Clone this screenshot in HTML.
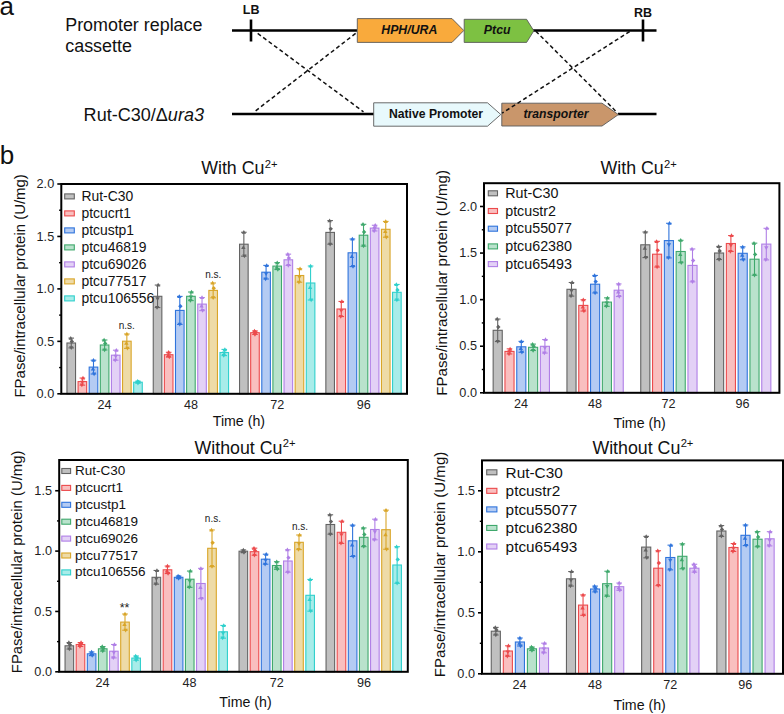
<!DOCTYPE html>
<html><head><meta charset="utf-8"><title>Figure</title>
<style>
html,body{margin:0;padding:0;background:#fff;}
body{width:784px;height:714px;overflow:hidden;}
svg{display:block;font-family:"Liberation Sans", sans-serif;}
</style></head>
<body>
<svg width="784" height="714" viewBox="0 0 784 714">
<rect width="784" height="714" fill="#fff"/>
<text x="-0.6" y="14.5" font-size="26" fill="#111" >a</text>
<text x="65.2" y="30.7" font-size="17.5" fill="#111" textLength="137.3" lengthAdjust="spacingAndGlyphs">Promoter replace</text>
<text x="65.2" y="51.7" font-size="17.5" fill="#111" textLength="66.8" lengthAdjust="spacingAndGlyphs">cassette</text>
<text x="83.6" y="120.7" font-size="17.5" fill="#111" textLength="120.4" lengthAdjust="spacingAndGlyphs">Rut-C30/&#916;<tspan font-style="italic">ura3</tspan></text>
<line x1="232" y1="30.5" x2="357" y2="30.5" stroke="#000" stroke-width="2.6"/>
<line x1="533" y1="30.5" x2="656.5" y2="30.5" stroke="#000" stroke-width="2.6"/>
<line x1="232" y1="114" x2="374" y2="114" stroke="#000" stroke-width="2.6"/>
<line x1="618" y1="114" x2="656.5" y2="114" stroke="#000" stroke-width="2.6"/>
<line x1="251" y1="19.5" x2="251" y2="41.5" stroke="#000" stroke-width="2.6"/>
<line x1="643" y1="19.5" x2="643" y2="41.5" stroke="#000" stroke-width="2.6"/>
<text x="251.1" y="13.8" font-size="12.5" text-anchor="middle" font-weight="bold" fill="#111" >LB</text>
<text x="643" y="16.7" font-size="12.5" text-anchor="middle" font-weight="bold" fill="#111" >RB</text>
<path d="M357.3,18.6 L452,18.6 L463.8,30.5 L452,42.4 L357.3,42.4 Z" fill="#f9aa3c" stroke="#5a5a5a" stroke-width="0.9"/>
<text x="409.3" y="33.6" font-size="12.3" font-weight="bold" font-style="italic" text-anchor="middle" fill="#111" >HPH/URA</text>
<path d="M464.2,19.3 L526.6,19.3 L533.8,30.85 L526.6,42.4 L464.2,42.4 Z" fill="#7dc142" stroke="#5a5a5a" stroke-width="0.9"/>
<text x="497.2" y="33.95" font-size="12.3" font-weight="bold" font-style="italic" text-anchor="middle" fill="#111" >Ptcu</text>
<path d="M373.7,102.8 L487.5,102.8 L500.8,114.5 L487.5,126.2 L373.7,126.2 Z" fill="#e8f9fc" stroke="#5a5a5a" stroke-width="0.9"/>
<text x="436" y="117.6" font-size="12.2" font-weight="bold" font-style="normal" text-anchor="middle" fill="#111" >Native Promoter</text>
<path d="M501.8,103.2 L602,103.2 L618.4,114.6 L602,126.0 L501.8,126.0 Z" fill="#c9966b" stroke="#5a5a5a" stroke-width="0.9"/>
<text x="556" y="117.69999999999999" font-size="12.2" font-weight="bold" font-style="italic" text-anchor="middle" fill="#111" >transporter</text>
<line x1="257.7" y1="33.4" x2="363.5" y2="111.8" stroke="#111" stroke-width="1.5" stroke-dasharray="4,2.8" fill="none"/>
<line x1="355.6" y1="33.4" x2="254.6" y2="111.6" stroke="#111" stroke-width="1.5" stroke-dasharray="4,2.8" fill="none"/>
<line x1="535.8" y1="31.1" x2="615.6" y2="111" stroke="#111" stroke-width="1.5" stroke-dasharray="4,2.8" fill="none"/>
<line x1="629.7" y1="31.5" x2="502.1" y2="113.2" stroke="#111" stroke-width="1.5" stroke-dasharray="4,2.8" fill="none"/>
<text x="-0.3" y="163.9" font-size="26" fill="#111" >b</text>
<rect x="66.95" y="343.00" width="8.60" height="50.80" fill="#c0c0c0" stroke="#636363" stroke-width="1.1"/>
<line x1="71.25" y1="338.10" x2="71.25" y2="347.90" stroke="#636363" stroke-width="1.1"/>
<line x1="68.45" y1="338.10" x2="74.05" y2="338.10" stroke="#636363" stroke-width="1.1"/>
<line x1="68.45" y1="347.90" x2="74.05" y2="347.90" stroke="#636363" stroke-width="1.1"/>
<path d="M68.55,339.66 L72.95,339.66 L70.75,335.92 Z" fill="#636363"/>
<path d="M71.85,339.33 L74.05,341.53 L71.85,343.72999999999996 L69.64999999999999,341.53 Z" fill="#636363"/>
<path d="M69.05,346.34 L73.45,346.34 L71.25,350.08 Z" fill="#636363"/>
<rect x="78.07" y="381.60" width="8.60" height="12.20" fill="#f9bfbf" stroke="#ec4a4c" stroke-width="1.1"/>
<line x1="82.37" y1="378.05" x2="82.37" y2="385.15" stroke="#ec4a4c" stroke-width="1.1"/>
<line x1="79.57" y1="378.05" x2="85.17" y2="378.05" stroke="#ec4a4c" stroke-width="1.1"/>
<line x1="79.57" y1="385.15" x2="85.17" y2="385.15" stroke="#ec4a4c" stroke-width="1.1"/>
<path d="M80.77,379.61 L85.17,379.61 L82.97,375.87 Z" fill="#ec4a4c"/>
<path d="M80.17,380.7275 L84.57000000000001,380.7275 L82.37,384.46750000000003 Z" fill="#ec4a4c"/>
<path d="M79.67,383.59000000000003 L84.07000000000001,383.59000000000003 L81.87,387.33000000000004 Z" fill="#ec4a4c"/>
<rect x="89.19" y="367.10" width="8.60" height="26.70" fill="#b4cbf3" stroke="#2f74dc" stroke-width="1.1"/>
<line x1="93.49" y1="360.20" x2="93.49" y2="374.00" stroke="#2f74dc" stroke-width="1.1"/>
<line x1="90.69" y1="360.20" x2="96.29" y2="360.20" stroke="#2f74dc" stroke-width="1.1"/>
<line x1="90.69" y1="374.00" x2="96.29" y2="374.00" stroke="#2f74dc" stroke-width="1.1"/>
<path d="M91.28999999999999,361.76000000000005 L95.69,361.76000000000005 L93.49,358.02000000000004 Z" fill="#2f74dc"/>
<path d="M90.78999999999999,370.58500000000004 L95.19,370.58500000000004 L92.99,366.845 Z" fill="#2f74dc"/>
<path d="M91.88999999999999,372.44 L96.28999999999999,372.44 L94.08999999999999,376.18 Z" fill="#2f74dc"/>
<rect x="100.31" y="345.00" width="8.60" height="48.80" fill="#b9e2cc" stroke="#3fa86c" stroke-width="1.1"/>
<line x1="104.61" y1="340.00" x2="104.61" y2="350.00" stroke="#3fa86c" stroke-width="1.1"/>
<line x1="101.81" y1="340.00" x2="107.41" y2="340.00" stroke="#3fa86c" stroke-width="1.1"/>
<line x1="101.81" y1="350.00" x2="107.41" y2="350.00" stroke="#3fa86c" stroke-width="1.1"/>
<path d="M101.91,341.56 L106.31,341.56 L104.11,337.82 Z" fill="#3fa86c"/>
<path d="M105.21,341.3 L107.41,343.5 L105.21,345.7 L103.00999999999999,343.5 Z" fill="#3fa86c"/>
<path d="M102.41,348.44 L106.81,348.44 L104.61,352.18 Z" fill="#3fa86c"/>
<rect x="111.43" y="355.20" width="8.60" height="38.60" fill="#e3d1f6" stroke="#b07fe6" stroke-width="1.1"/>
<line x1="115.73" y1="350.20" x2="115.73" y2="360.20" stroke="#b07fe6" stroke-width="1.1"/>
<line x1="112.93" y1="350.20" x2="118.53" y2="350.20" stroke="#b07fe6" stroke-width="1.1"/>
<line x1="112.93" y1="360.20" x2="118.53" y2="360.20" stroke="#b07fe6" stroke-width="1.1"/>
<path d="M114.12999999999998,351.76 L118.52999999999999,351.76 L116.32999999999998,348.02 Z" fill="#b07fe6"/>
<path d="M113.52999999999999,354.69 L117.92999999999999,354.69 L115.72999999999999,358.43 Z" fill="#b07fe6"/>
<path d="M113.02999999999999,358.64 L117.42999999999999,358.64 L115.22999999999999,362.38 Z" fill="#b07fe6"/>
<rect x="122.55" y="341.20" width="8.60" height="52.60" fill="#eedba7" stroke="#d9a528" stroke-width="1.1"/>
<line x1="126.85" y1="334.00" x2="126.85" y2="348.40" stroke="#d9a528" stroke-width="1.1"/>
<line x1="124.05" y1="334.00" x2="129.65" y2="334.00" stroke="#d9a528" stroke-width="1.1"/>
<line x1="124.05" y1="348.40" x2="129.65" y2="348.40" stroke="#d9a528" stroke-width="1.1"/>
<path d="M124.64999999999999,335.56 L129.04999999999998,335.56 L126.85,331.82 Z" fill="#d9a528"/>
<path d="M124.14999999999999,344.76 L128.54999999999998,344.76 L126.35,341.02 Z" fill="#d9a528"/>
<path d="M125.24999999999999,346.84 L129.64999999999998,346.84 L127.44999999999999,350.58 Z" fill="#d9a528"/>
<rect x="133.67" y="382.20" width="8.60" height="11.60" fill="#a8ece9" stroke="#2fd0cc" stroke-width="1.1"/>
<line x1="137.97" y1="381.20" x2="137.97" y2="383.20" stroke="#2fd0cc" stroke-width="1.1"/>
<line x1="135.17" y1="381.20" x2="140.77" y2="381.20" stroke="#2fd0cc" stroke-width="1.1"/>
<line x1="135.17" y1="383.20" x2="140.77" y2="383.20" stroke="#2fd0cc" stroke-width="1.1"/>
<path d="M135.27,382.76 L139.67,382.76 L137.47,379.02 Z" fill="#2fd0cc"/>
<path d="M138.57,379.7 L140.76999999999998,381.9 L138.57,384.09999999999997 L136.37,381.9 Z" fill="#2fd0cc"/>
<path d="M135.77,381.64 L140.17,381.64 L137.97,385.38 Z" fill="#2fd0cc"/>
<rect x="153.25" y="296.30" width="8.60" height="97.50" fill="#c0c0c0" stroke="#636363" stroke-width="1.1"/>
<line x1="157.55" y1="285.05" x2="157.55" y2="307.55" stroke="#636363" stroke-width="1.1"/>
<line x1="154.75" y1="285.05" x2="160.35" y2="285.05" stroke="#636363" stroke-width="1.1"/>
<line x1="154.75" y1="307.55" x2="160.35" y2="307.55" stroke="#636363" stroke-width="1.1"/>
<path d="M155.95,286.61 L160.34999999999997,286.61 L158.14999999999998,282.87 Z" fill="#636363"/>
<path d="M155.35,297.3525 L159.74999999999997,297.3525 L157.54999999999998,301.09250000000003 Z" fill="#636363"/>
<path d="M154.85,305.99 L159.24999999999997,305.99 L157.04999999999998,309.73 Z" fill="#636363"/>
<rect x="164.37" y="354.70" width="8.60" height="39.10" fill="#f9bfbf" stroke="#ec4a4c" stroke-width="1.1"/>
<line x1="168.67" y1="352.30" x2="168.67" y2="357.10" stroke="#ec4a4c" stroke-width="1.1"/>
<line x1="165.87" y1="352.30" x2="171.47" y2="352.30" stroke="#ec4a4c" stroke-width="1.1"/>
<line x1="165.87" y1="357.10" x2="171.47" y2="357.10" stroke="#ec4a4c" stroke-width="1.1"/>
<path d="M166.47,353.85999999999996 L170.86999999999998,353.85999999999996 L168.67,350.11999999999995 Z" fill="#ec4a4c"/>
<path d="M165.97,357.06 L170.36999999999998,357.06 L168.17,353.32 Z" fill="#ec4a4c"/>
<path d="M167.07,355.54 L171.46999999999997,355.54 L169.26999999999998,359.28000000000003 Z" fill="#ec4a4c"/>
<rect x="175.49" y="310.40" width="8.60" height="83.40" fill="#b4cbf3" stroke="#2f74dc" stroke-width="1.1"/>
<line x1="179.79" y1="296.40" x2="179.79" y2="324.40" stroke="#2f74dc" stroke-width="1.1"/>
<line x1="176.99" y1="296.40" x2="182.59" y2="296.40" stroke="#2f74dc" stroke-width="1.1"/>
<line x1="176.99" y1="324.40" x2="182.59" y2="324.40" stroke="#2f74dc" stroke-width="1.1"/>
<path d="M177.09,297.96 L181.48999999999998,297.96 L179.29,294.21999999999997 Z" fill="#2f74dc"/>
<path d="M180.39,304.0 L182.58999999999997,306.2 L180.39,308.4 L178.19,306.2 Z" fill="#2f74dc"/>
<path d="M177.59,322.84 L181.98999999999998,322.84 L179.79,326.58 Z" fill="#2f74dc"/>
<rect x="186.61" y="296.30" width="8.60" height="97.50" fill="#b9e2cc" stroke="#3fa86c" stroke-width="1.1"/>
<line x1="190.91" y1="292.00" x2="190.91" y2="300.60" stroke="#3fa86c" stroke-width="1.1"/>
<line x1="188.11" y1="292.00" x2="193.71" y2="292.00" stroke="#3fa86c" stroke-width="1.1"/>
<line x1="188.11" y1="300.60" x2="193.71" y2="300.60" stroke="#3fa86c" stroke-width="1.1"/>
<path d="M189.31,293.56 L193.70999999999998,293.56 L191.51,289.82 Z" fill="#3fa86c"/>
<path d="M188.71,295.615 L193.10999999999999,295.615 L190.91,299.355 Z" fill="#3fa86c"/>
<path d="M188.21,299.04 L192.60999999999999,299.04 L190.41,302.78000000000003 Z" fill="#3fa86c"/>
<rect x="197.73" y="304.10" width="8.60" height="89.70" fill="#e3d1f6" stroke="#b07fe6" stroke-width="1.1"/>
<line x1="202.03" y1="297.55" x2="202.03" y2="310.65" stroke="#b07fe6" stroke-width="1.1"/>
<line x1="199.23" y1="297.55" x2="204.83" y2="297.55" stroke="#b07fe6" stroke-width="1.1"/>
<line x1="199.23" y1="310.65" x2="204.83" y2="310.65" stroke="#b07fe6" stroke-width="1.1"/>
<path d="M199.82999999999998,299.11 L204.22999999999996,299.11 L202.02999999999997,295.37 Z" fill="#b07fe6"/>
<path d="M199.32999999999998,307.4975 L203.72999999999996,307.4975 L201.52999999999997,303.7575 Z" fill="#b07fe6"/>
<path d="M200.42999999999998,309.09000000000003 L204.82999999999996,309.09000000000003 L202.62999999999997,312.83000000000004 Z" fill="#b07fe6"/>
<rect x="208.85" y="290.40" width="8.60" height="103.40" fill="#eedba7" stroke="#d9a528" stroke-width="1.1"/>
<line x1="213.15" y1="283.00" x2="213.15" y2="297.80" stroke="#d9a528" stroke-width="1.1"/>
<line x1="210.35" y1="283.00" x2="215.95" y2="283.00" stroke="#d9a528" stroke-width="1.1"/>
<line x1="210.35" y1="297.80" x2="215.95" y2="297.80" stroke="#d9a528" stroke-width="1.1"/>
<path d="M210.45,284.56 L214.84999999999997,284.56 L212.64999999999998,280.82 Z" fill="#d9a528"/>
<path d="M213.74999999999997,285.97999999999996 L215.94999999999996,288.17999999999995 L213.74999999999997,290.37999999999994 L211.54999999999998,288.17999999999995 Z" fill="#d9a528"/>
<path d="M210.95,296.23999999999995 L215.34999999999997,296.23999999999995 L213.14999999999998,299.97999999999996 Z" fill="#d9a528"/>
<rect x="219.97" y="352.50" width="8.60" height="41.30" fill="#a8ece9" stroke="#2fd0cc" stroke-width="1.1"/>
<line x1="224.27" y1="349.40" x2="224.27" y2="355.60" stroke="#2fd0cc" stroke-width="1.1"/>
<line x1="221.47" y1="349.40" x2="227.07" y2="349.40" stroke="#2fd0cc" stroke-width="1.1"/>
<line x1="221.47" y1="355.60" x2="227.07" y2="355.60" stroke="#2fd0cc" stroke-width="1.1"/>
<path d="M222.67,350.96 L227.06999999999996,350.96 L224.86999999999998,347.21999999999997 Z" fill="#2fd0cc"/>
<path d="M222.07,351.515 L226.46999999999997,351.515 L224.26999999999998,355.255 Z" fill="#2fd0cc"/>
<path d="M221.57,354.04 L225.96999999999997,354.04 L223.76999999999998,357.78000000000003 Z" fill="#2fd0cc"/>
<rect x="239.55" y="244.20" width="8.60" height="149.60" fill="#c0c0c0" stroke="#636363" stroke-width="1.1"/>
<line x1="243.85" y1="232.25" x2="243.85" y2="256.15" stroke="#636363" stroke-width="1.1"/>
<line x1="241.05" y1="232.25" x2="246.65" y2="232.25" stroke="#636363" stroke-width="1.1"/>
<line x1="241.05" y1="256.15" x2="246.65" y2="256.15" stroke="#636363" stroke-width="1.1"/>
<path d="M241.65,233.81 L246.04999999999998,233.81 L243.85,230.07000000000002 Z" fill="#636363"/>
<path d="M241.15,248.9475 L245.54999999999998,248.9475 L243.35,245.2075 Z" fill="#636363"/>
<path d="M242.25,254.58999999999997 L246.64999999999998,254.58999999999997 L244.45,258.33 Z" fill="#636363"/>
<rect x="250.67" y="332.70" width="8.60" height="61.10" fill="#f9bfbf" stroke="#ec4a4c" stroke-width="1.1"/>
<line x1="254.97" y1="330.90" x2="254.97" y2="334.50" stroke="#ec4a4c" stroke-width="1.1"/>
<line x1="252.17" y1="330.90" x2="257.77" y2="330.90" stroke="#ec4a4c" stroke-width="1.1"/>
<line x1="252.17" y1="334.50" x2="257.77" y2="334.50" stroke="#ec4a4c" stroke-width="1.1"/>
<path d="M252.27,332.46 L256.67,332.46 L254.47,328.71999999999997 Z" fill="#ec4a4c"/>
<path d="M255.57,329.96 L257.77,332.15999999999997 L255.57,334.35999999999996 L253.37,332.15999999999997 Z" fill="#ec4a4c"/>
<path d="M252.77,332.94 L257.17,332.94 L254.97,336.68 Z" fill="#ec4a4c"/>
<rect x="261.79" y="272.20" width="8.60" height="121.60" fill="#b4cbf3" stroke="#2f74dc" stroke-width="1.1"/>
<line x1="266.09" y1="265.40" x2="266.09" y2="279.00" stroke="#2f74dc" stroke-width="1.1"/>
<line x1="263.29" y1="265.40" x2="268.89" y2="265.40" stroke="#2f74dc" stroke-width="1.1"/>
<line x1="263.29" y1="279.00" x2="268.89" y2="279.00" stroke="#2f74dc" stroke-width="1.1"/>
<path d="M264.49000000000007,266.96 L268.89000000000004,266.96 L266.69000000000005,263.21999999999997 Z" fill="#2f74dc"/>
<path d="M263.89000000000004,272.14 L268.29,272.14 L266.09000000000003,275.88 Z" fill="#2f74dc"/>
<path d="M263.39000000000004,277.44 L267.79,277.44 L265.59000000000003,281.18 Z" fill="#2f74dc"/>
<rect x="272.91" y="266.10" width="8.60" height="127.70" fill="#b9e2cc" stroke="#3fa86c" stroke-width="1.1"/>
<line x1="277.21" y1="262.65" x2="277.21" y2="269.55" stroke="#3fa86c" stroke-width="1.1"/>
<line x1="274.41" y1="262.65" x2="280.01" y2="262.65" stroke="#3fa86c" stroke-width="1.1"/>
<line x1="274.41" y1="269.55" x2="280.01" y2="269.55" stroke="#3fa86c" stroke-width="1.1"/>
<path d="M275.01000000000005,264.21000000000004 L279.41,264.21000000000004 L277.21000000000004,260.47 Z" fill="#3fa86c"/>
<path d="M274.51000000000005,268.7225 L278.91,268.7225 L276.71000000000004,264.9825 Z" fill="#3fa86c"/>
<path d="M275.61000000000007,267.99 L280.01000000000005,267.99 L277.81000000000006,271.73 Z" fill="#3fa86c"/>
<rect x="284.03" y="259.80" width="8.60" height="134.00" fill="#e3d1f6" stroke="#b07fe6" stroke-width="1.1"/>
<line x1="288.33" y1="254.15" x2="288.33" y2="265.45" stroke="#b07fe6" stroke-width="1.1"/>
<line x1="285.53" y1="254.15" x2="291.13" y2="254.15" stroke="#b07fe6" stroke-width="1.1"/>
<line x1="285.53" y1="265.45" x2="291.13" y2="265.45" stroke="#b07fe6" stroke-width="1.1"/>
<path d="M285.63000000000005,255.71 L290.03000000000003,255.71 L287.83000000000004,251.97000000000003 Z" fill="#b07fe6"/>
<path d="M288.93000000000006,255.90500000000003 L291.13000000000005,258.105 L288.93000000000006,260.305 L286.7300000000001,258.105 Z" fill="#b07fe6"/>
<path d="M286.13000000000005,263.89000000000004 L290.53000000000003,263.89000000000004 L288.33000000000004,267.63000000000005 Z" fill="#b07fe6"/>
<rect x="295.15" y="275.50" width="8.60" height="118.30" fill="#eedba7" stroke="#d9a528" stroke-width="1.1"/>
<line x1="299.45" y1="268.80" x2="299.45" y2="282.20" stroke="#d9a528" stroke-width="1.1"/>
<line x1="296.65" y1="268.80" x2="302.25" y2="268.80" stroke="#d9a528" stroke-width="1.1"/>
<line x1="296.65" y1="282.20" x2="302.25" y2="282.20" stroke="#d9a528" stroke-width="1.1"/>
<path d="M297.8500000000001,270.35999999999996 L302.25000000000006,270.35999999999996 L300.05000000000007,266.61999999999995 Z" fill="#d9a528"/>
<path d="M297.25000000000006,275.415 L301.65000000000003,275.415 L299.45000000000005,279.15500000000003 Z" fill="#d9a528"/>
<path d="M296.75000000000006,280.64000000000004 L301.15000000000003,280.64000000000004 L298.95000000000005,284.38000000000005 Z" fill="#d9a528"/>
<rect x="306.27" y="283.00" width="8.60" height="110.80" fill="#a8ece9" stroke="#2fd0cc" stroke-width="1.1"/>
<line x1="310.57" y1="266.00" x2="310.57" y2="300.00" stroke="#2fd0cc" stroke-width="1.1"/>
<line x1="307.77" y1="266.00" x2="313.37" y2="266.00" stroke="#2fd0cc" stroke-width="1.1"/>
<line x1="307.77" y1="300.00" x2="313.37" y2="300.00" stroke="#2fd0cc" stroke-width="1.1"/>
<path d="M308.37000000000006,267.56 L312.77000000000004,267.56 L310.57000000000005,263.82 Z" fill="#2fd0cc"/>
<path d="M307.87000000000006,289.01 L312.27000000000004,289.01 L310.07000000000005,285.27 Z" fill="#2fd0cc"/>
<path d="M308.9700000000001,298.44 L313.37000000000006,298.44 L311.1700000000001,302.18 Z" fill="#2fd0cc"/>
<rect x="325.85" y="232.40" width="8.60" height="161.40" fill="#c0c0c0" stroke="#636363" stroke-width="1.1"/>
<line x1="330.15" y1="220.60" x2="330.15" y2="244.20" stroke="#636363" stroke-width="1.1"/>
<line x1="327.35" y1="220.60" x2="332.95" y2="220.60" stroke="#636363" stroke-width="1.1"/>
<line x1="327.35" y1="244.20" x2="332.95" y2="244.20" stroke="#636363" stroke-width="1.1"/>
<path d="M327.45,222.16 L331.84999999999997,222.16 L329.65,218.42000000000002 Z" fill="#636363"/>
<path d="M330.75,226.66000000000003 L332.95,228.86 L330.75,231.06 L328.55,228.86 Z" fill="#636363"/>
<path d="M327.95,242.64000000000001 L332.34999999999997,242.64000000000001 L330.15,246.38 Z" fill="#636363"/>
<rect x="336.97" y="309.00" width="8.60" height="84.80" fill="#f9bfbf" stroke="#ec4a4c" stroke-width="1.1"/>
<line x1="341.27" y1="301.45" x2="341.27" y2="316.55" stroke="#ec4a4c" stroke-width="1.1"/>
<line x1="338.47" y1="301.45" x2="344.07" y2="301.45" stroke="#ec4a4c" stroke-width="1.1"/>
<line x1="338.47" y1="316.55" x2="344.07" y2="316.55" stroke="#ec4a4c" stroke-width="1.1"/>
<path d="M339.67,303.01 L344.07,303.01 L341.87,299.27 Z" fill="#ec4a4c"/>
<path d="M339.07,309.1275 L343.46999999999997,309.1275 L341.27,312.8675 Z" fill="#ec4a4c"/>
<path d="M338.57,314.99 L342.96999999999997,314.99 L340.77,318.73 Z" fill="#ec4a4c"/>
<rect x="348.09" y="252.80" width="8.60" height="141.00" fill="#b4cbf3" stroke="#2f74dc" stroke-width="1.1"/>
<line x1="352.39" y1="239.00" x2="352.39" y2="266.60" stroke="#2f74dc" stroke-width="1.1"/>
<line x1="349.59" y1="239.00" x2="355.19" y2="239.00" stroke="#2f74dc" stroke-width="1.1"/>
<line x1="349.59" y1="266.60" x2="355.19" y2="266.60" stroke="#2f74dc" stroke-width="1.1"/>
<path d="M350.19,240.56000000000003 L354.59,240.56000000000003 L352.39,236.82000000000005 Z" fill="#2f74dc"/>
<path d="M349.69,258.01 L354.09,258.01 L351.89,254.27 Z" fill="#2f74dc"/>
<path d="M350.79,265.04 L355.19,265.04 L352.99,268.78000000000003 Z" fill="#2f74dc"/>
<rect x="359.21" y="235.20" width="8.60" height="158.60" fill="#b9e2cc" stroke="#3fa86c" stroke-width="1.1"/>
<line x1="363.51" y1="224.30" x2="363.51" y2="246.10" stroke="#3fa86c" stroke-width="1.1"/>
<line x1="360.71" y1="224.30" x2="366.31" y2="224.30" stroke="#3fa86c" stroke-width="1.1"/>
<line x1="360.71" y1="246.10" x2="366.31" y2="246.10" stroke="#3fa86c" stroke-width="1.1"/>
<path d="M360.81,225.85999999999999 L365.21,225.85999999999999 L363.01,222.12 Z" fill="#3fa86c"/>
<path d="M364.11,229.73 L366.31,231.92999999999998 L364.11,234.12999999999997 L361.91,231.92999999999998 Z" fill="#3fa86c"/>
<path d="M361.31,244.54 L365.71,244.54 L363.51,248.27999999999997 Z" fill="#3fa86c"/>
<rect x="370.33" y="228.10" width="8.60" height="165.70" fill="#e3d1f6" stroke="#b07fe6" stroke-width="1.1"/>
<line x1="374.63" y1="225.25" x2="374.63" y2="230.95" stroke="#b07fe6" stroke-width="1.1"/>
<line x1="371.83" y1="225.25" x2="377.43" y2="225.25" stroke="#b07fe6" stroke-width="1.1"/>
<line x1="371.83" y1="230.95" x2="377.43" y2="230.95" stroke="#b07fe6" stroke-width="1.1"/>
<path d="M373.03000000000003,226.81 L377.43,226.81 L375.23,223.07000000000002 Z" fill="#b07fe6"/>
<path d="M372.43,227.0525 L376.83,227.0525 L374.63,230.7925 Z" fill="#b07fe6"/>
<path d="M371.93,229.39 L376.33,229.39 L374.13,233.12999999999997 Z" fill="#b07fe6"/>
<rect x="381.45" y="229.30" width="8.60" height="164.50" fill="#eedba7" stroke="#d9a528" stroke-width="1.1"/>
<line x1="385.75" y1="221.40" x2="385.75" y2="237.20" stroke="#d9a528" stroke-width="1.1"/>
<line x1="382.95" y1="221.40" x2="388.55" y2="221.40" stroke="#d9a528" stroke-width="1.1"/>
<line x1="382.95" y1="237.20" x2="388.55" y2="237.20" stroke="#d9a528" stroke-width="1.1"/>
<path d="M383.55,222.96000000000004 L387.95,222.96000000000004 L385.75,219.22000000000006 Z" fill="#d9a528"/>
<path d="M383.05,233.035 L387.45,233.035 L385.25,229.29500000000002 Z" fill="#d9a528"/>
<path d="M384.15000000000003,235.64 L388.55,235.64 L386.35,239.37999999999997 Z" fill="#d9a528"/>
<rect x="392.57" y="292.30" width="8.60" height="101.50" fill="#a8ece9" stroke="#2fd0cc" stroke-width="1.1"/>
<line x1="396.87" y1="284.45" x2="396.87" y2="300.15" stroke="#2fd0cc" stroke-width="1.1"/>
<line x1="394.07" y1="284.45" x2="399.67" y2="284.45" stroke="#2fd0cc" stroke-width="1.1"/>
<line x1="394.07" y1="300.15" x2="399.67" y2="300.15" stroke="#2fd0cc" stroke-width="1.1"/>
<path d="M394.17,286.01000000000005 L398.57,286.01000000000005 L396.37,282.27000000000004 Z" fill="#2fd0cc"/>
<path d="M397.47,287.745 L399.67,289.945 L397.47,292.145 L395.27000000000004,289.945 Z" fill="#2fd0cc"/>
<path d="M394.67,298.59 L399.07,298.59 L396.87,302.33 Z" fill="#2fd0cc"/>
<rect x="61.3" y="184" width="345.7" height="209.8" fill="none" stroke="#000" stroke-width="2.0"/>
<line x1="57.3" y1="393.80" x2="61.3" y2="393.80" stroke="#000" stroke-width="1.6"/>
<text x="54.2" y="398.0" font-size="12.7" text-anchor="end" fill="#1e1e1e" >0.0</text>
<line x1="57.3" y1="341.35" x2="61.3" y2="341.35" stroke="#000" stroke-width="1.6"/>
<text x="54.2" y="345.55" font-size="12.7" text-anchor="end" fill="#1e1e1e" >0.5</text>
<line x1="57.3" y1="288.90" x2="61.3" y2="288.90" stroke="#000" stroke-width="1.6"/>
<text x="54.2" y="293.09999999999997" font-size="12.7" text-anchor="end" fill="#1e1e1e" >1.0</text>
<line x1="57.3" y1="236.45" x2="61.3" y2="236.45" stroke="#000" stroke-width="1.6"/>
<text x="54.2" y="240.64999999999998" font-size="12.7" text-anchor="end" fill="#1e1e1e" >1.5</text>
<line x1="57.3" y1="184.00" x2="61.3" y2="184.00" stroke="#000" stroke-width="1.6"/>
<text x="54.2" y="188.2" font-size="12.7" text-anchor="end" fill="#1e1e1e" >2.0</text>
<line x1="59.099999999999994" y1="367.57" x2="61.3" y2="367.57" stroke="#000" stroke-width="1.4"/>
<line x1="59.099999999999994" y1="315.12" x2="61.3" y2="315.12" stroke="#000" stroke-width="1.4"/>
<line x1="59.099999999999994" y1="262.68" x2="61.3" y2="262.68" stroke="#000" stroke-width="1.4"/>
<line x1="59.099999999999994" y1="210.22" x2="61.3" y2="210.22" stroke="#000" stroke-width="1.4"/>
<text x="104.4" y="408.6" font-size="12.6" text-anchor="middle" fill="#222" >24</text>
<text x="191.0" y="408.6" font-size="12.6" text-anchor="middle" fill="#222" >48</text>
<text x="277.3" y="408.6" font-size="12.6" text-anchor="middle" fill="#222" >72</text>
<text x="363.8" y="408.6" font-size="12.6" text-anchor="middle" fill="#222" >96</text>
<text x="238.9" y="426.3" font-size="14.2" text-anchor="middle" fill="#111" >Time (h)</text>
<text transform="translate(24.6,397.5) rotate(-90)" x="0" y="0" font-size="14.95" fill="#111">FPase/intracellular protein (U/mg)</text>
<text x="201.2" y="174.3" font-size="17.8" fill="#111">With Cu<tspan font-size="11.2" dx="0.3" dy="-6.6">2+</tspan></text>
<rect x="64.7" y="193.9" width="9.6" height="5" fill="#c0c0c0" stroke="#636363" stroke-width="1.1"/>
<text x="81.5" y="201.1" font-size="13.9" fill="#111" >Rut-C30</text>
<rect x="64.7" y="210.9" width="9.6" height="5" fill="#f9bfbf" stroke="#ec4a4c" stroke-width="1.1"/>
<text x="81.5" y="218.1" font-size="13.9" fill="#111" >ptcucrt1</text>
<rect x="64.7" y="227.9" width="9.6" height="5" fill="#b4cbf3" stroke="#2f74dc" stroke-width="1.1"/>
<text x="81.5" y="235.1" font-size="13.9" fill="#111" >ptcustp1</text>
<rect x="64.7" y="244.9" width="9.6" height="5" fill="#b9e2cc" stroke="#3fa86c" stroke-width="1.1"/>
<text x="81.5" y="252.1" font-size="13.9" fill="#111" >ptcu46819</text>
<rect x="64.7" y="261.9" width="9.6" height="5" fill="#e3d1f6" stroke="#b07fe6" stroke-width="1.1"/>
<text x="81.5" y="269.1" font-size="13.9" fill="#111" >ptcu69026</text>
<rect x="64.7" y="278.9" width="9.6" height="5" fill="#eedba7" stroke="#d9a528" stroke-width="1.1"/>
<text x="81.5" y="286.1" font-size="13.9" fill="#111" >ptcu77517</text>
<rect x="64.7" y="295.9" width="9.6" height="5" fill="#a8ece9" stroke="#2fd0cc" stroke-width="1.1"/>
<text x="81.5" y="303.1" font-size="13.9" fill="#111" >ptcu106556</text>
<text x="126.8" y="328.6" font-size="10" text-anchor="middle" fill="#222" >n.s.</text>
<text x="213.3" y="277.6" font-size="10" text-anchor="middle" fill="#222" >n.s.</text>
<rect x="493.15" y="330.30" width="9.10" height="62.50" fill="#c0c0c0" stroke="#636363" stroke-width="1.1"/>
<line x1="497.70" y1="319.05" x2="497.70" y2="341.55" stroke="#636363" stroke-width="1.1"/>
<line x1="494.90" y1="319.05" x2="500.50" y2="319.05" stroke="#636363" stroke-width="1.1"/>
<line x1="494.90" y1="341.55" x2="500.50" y2="341.55" stroke="#636363" stroke-width="1.1"/>
<path d="M495.00000000000006,320.61 L499.40000000000003,320.61 L497.20000000000005,316.87 Z" fill="#636363"/>
<path d="M498.30000000000007,324.725 L500.50000000000006,326.925 L498.30000000000007,329.125 L496.1000000000001,326.925 Z" fill="#636363"/>
<path d="M495.50000000000006,339.99 L499.90000000000003,339.99 L497.70000000000005,343.73 Z" fill="#636363"/>
<rect x="504.95" y="351.40" width="9.10" height="41.40" fill="#f9bfbf" stroke="#ec4a4c" stroke-width="1.1"/>
<line x1="509.50" y1="348.85" x2="509.50" y2="353.95" stroke="#ec4a4c" stroke-width="1.1"/>
<line x1="506.70" y1="348.85" x2="512.30" y2="348.85" stroke="#ec4a4c" stroke-width="1.1"/>
<line x1="506.70" y1="353.95" x2="512.30" y2="353.95" stroke="#ec4a4c" stroke-width="1.1"/>
<path d="M507.9000000000001,350.40999999999997 L512.3000000000001,350.40999999999997 L510.1000000000001,346.66999999999996 Z" fill="#ec4a4c"/>
<path d="M507.30000000000007,350.2775 L511.70000000000005,350.2775 L509.50000000000006,354.0175 Z" fill="#ec4a4c"/>
<path d="M506.80000000000007,352.39 L511.20000000000005,352.39 L509.00000000000006,356.13 Z" fill="#ec4a4c"/>
<rect x="516.75" y="346.80" width="9.10" height="46.00" fill="#b4cbf3" stroke="#2f74dc" stroke-width="1.1"/>
<line x1="521.30" y1="341.35" x2="521.30" y2="352.25" stroke="#2f74dc" stroke-width="1.1"/>
<line x1="518.50" y1="341.35" x2="524.10" y2="341.35" stroke="#2f74dc" stroke-width="1.1"/>
<line x1="518.50" y1="352.25" x2="524.10" y2="352.25" stroke="#2f74dc" stroke-width="1.1"/>
<path d="M519.1,342.91 L523.5000000000001,342.91 L521.3000000000001,339.17 Z" fill="#2f74dc"/>
<path d="M518.6,349.9225 L523.0000000000001,349.9225 L520.8000000000001,346.1825 Z" fill="#2f74dc"/>
<path d="M519.7,350.69 L524.1000000000001,350.69 L521.9000000000001,354.43 Z" fill="#2f74dc"/>
<rect x="528.55" y="347.30" width="9.10" height="45.50" fill="#b9e2cc" stroke="#3fa86c" stroke-width="1.1"/>
<line x1="533.10" y1="344.10" x2="533.10" y2="350.50" stroke="#3fa86c" stroke-width="1.1"/>
<line x1="530.30" y1="344.10" x2="535.90" y2="344.10" stroke="#3fa86c" stroke-width="1.1"/>
<line x1="530.30" y1="350.50" x2="535.90" y2="350.50" stroke="#3fa86c" stroke-width="1.1"/>
<path d="M530.4,345.66 L534.8000000000001,345.66 L532.6,341.92 Z" fill="#3fa86c"/>
<path d="M533.7,344.14000000000004 L535.9000000000001,346.34000000000003 L533.7,348.54 L531.5,346.34000000000003 Z" fill="#3fa86c"/>
<path d="M530.9,348.94 L535.3000000000001,348.94 L533.1,352.68 Z" fill="#3fa86c"/>
<rect x="540.35" y="346.30" width="9.10" height="46.50" fill="#e3d1f6" stroke="#b07fe6" stroke-width="1.1"/>
<line x1="544.90" y1="339.55" x2="544.90" y2="353.05" stroke="#b07fe6" stroke-width="1.1"/>
<line x1="542.10" y1="339.55" x2="547.70" y2="339.55" stroke="#b07fe6" stroke-width="1.1"/>
<line x1="542.10" y1="353.05" x2="547.70" y2="353.05" stroke="#b07fe6" stroke-width="1.1"/>
<path d="M543.3000000000001,341.11 L547.7000000000002,341.11 L545.5000000000001,337.37 Z" fill="#b07fe6"/>
<path d="M542.7,346.2275 L547.1000000000001,346.2275 L544.9000000000001,349.96750000000003 Z" fill="#b07fe6"/>
<path d="M542.2,351.49 L546.6000000000001,351.49 L544.4000000000001,355.23 Z" fill="#b07fe6"/>
<rect x="566.95" y="289.30" width="9.10" height="103.50" fill="#c0c0c0" stroke="#636363" stroke-width="1.1"/>
<line x1="571.50" y1="282.50" x2="571.50" y2="296.10" stroke="#636363" stroke-width="1.1"/>
<line x1="568.70" y1="282.50" x2="574.30" y2="282.50" stroke="#636363" stroke-width="1.1"/>
<line x1="568.70" y1="296.10" x2="574.30" y2="296.10" stroke="#636363" stroke-width="1.1"/>
<path d="M569.9,284.06 L574.3000000000001,284.06 L572.1,280.32 Z" fill="#636363"/>
<path d="M569.3,289.24 L573.7,289.24 L571.5,292.98 Z" fill="#636363"/>
<path d="M568.8,294.54 L573.2,294.54 L571.0,298.28000000000003 Z" fill="#636363"/>
<rect x="578.75" y="305.40" width="9.10" height="87.40" fill="#f9bfbf" stroke="#ec4a4c" stroke-width="1.1"/>
<line x1="583.30" y1="299.75" x2="583.30" y2="311.05" stroke="#ec4a4c" stroke-width="1.1"/>
<line x1="580.50" y1="299.75" x2="586.10" y2="299.75" stroke="#ec4a4c" stroke-width="1.1"/>
<line x1="580.50" y1="311.05" x2="586.10" y2="311.05" stroke="#ec4a4c" stroke-width="1.1"/>
<path d="M581.0999999999999,301.31 L585.5,301.31 L583.3,297.57 Z" fill="#ec4a4c"/>
<path d="M580.5999999999999,308.5725 L585.0,308.5725 L582.8,304.8325 Z" fill="#ec4a4c"/>
<path d="M581.6999999999999,309.48999999999995 L586.1,309.48999999999995 L583.9,313.22999999999996 Z" fill="#ec4a4c"/>
<rect x="590.55" y="284.20" width="9.10" height="108.60" fill="#b4cbf3" stroke="#2f74dc" stroke-width="1.1"/>
<line x1="595.10" y1="275.45" x2="595.10" y2="292.95" stroke="#2f74dc" stroke-width="1.1"/>
<line x1="592.30" y1="275.45" x2="597.90" y2="275.45" stroke="#2f74dc" stroke-width="1.1"/>
<line x1="592.30" y1="292.95" x2="597.90" y2="292.95" stroke="#2f74dc" stroke-width="1.1"/>
<path d="M592.4,277.01 L596.8000000000001,277.01 L594.6,273.27 Z" fill="#2f74dc"/>
<path d="M595.7,279.375 L597.9000000000001,281.575 L595.7,283.775 L593.5,281.575 Z" fill="#2f74dc"/>
<path d="M592.9,291.39 L597.3000000000001,291.39 L595.1,295.13 Z" fill="#2f74dc"/>
<rect x="602.35" y="302.10" width="9.10" height="90.70" fill="#b9e2cc" stroke="#3fa86c" stroke-width="1.1"/>
<line x1="606.90" y1="297.85" x2="606.90" y2="306.35" stroke="#3fa86c" stroke-width="1.1"/>
<line x1="604.10" y1="297.85" x2="609.70" y2="297.85" stroke="#3fa86c" stroke-width="1.1"/>
<line x1="604.10" y1="306.35" x2="609.70" y2="306.35" stroke="#3fa86c" stroke-width="1.1"/>
<path d="M605.3,299.41 L609.7,299.41 L607.5,295.67 Z" fill="#3fa86c"/>
<path d="M604.6999999999999,301.40250000000003 L609.1,301.40250000000003 L606.9,305.14250000000004 Z" fill="#3fa86c"/>
<path d="M604.1999999999999,304.79 L608.6,304.79 L606.4,308.53000000000003 Z" fill="#3fa86c"/>
<rect x="614.15" y="290.20" width="9.10" height="102.60" fill="#e3d1f6" stroke="#b07fe6" stroke-width="1.1"/>
<line x1="618.70" y1="283.90" x2="618.70" y2="296.50" stroke="#b07fe6" stroke-width="1.1"/>
<line x1="615.90" y1="283.90" x2="621.50" y2="283.90" stroke="#b07fe6" stroke-width="1.1"/>
<line x1="615.90" y1="296.50" x2="621.50" y2="296.50" stroke="#b07fe6" stroke-width="1.1"/>
<path d="M616.5,285.46 L620.9000000000001,285.46 L618.7,281.71999999999997 Z" fill="#b07fe6"/>
<path d="M616.0,293.53499999999997 L620.4000000000001,293.53499999999997 L618.2,289.79499999999996 Z" fill="#b07fe6"/>
<path d="M617.1,294.94 L621.5000000000001,294.94 L619.3000000000001,298.68 Z" fill="#b07fe6"/>
<rect x="640.75" y="244.80" width="9.10" height="148.00" fill="#c0c0c0" stroke="#636363" stroke-width="1.1"/>
<line x1="645.30" y1="232.00" x2="645.30" y2="257.60" stroke="#636363" stroke-width="1.1"/>
<line x1="642.50" y1="232.00" x2="648.10" y2="232.00" stroke="#636363" stroke-width="1.1"/>
<line x1="642.50" y1="257.60" x2="648.10" y2="257.60" stroke="#636363" stroke-width="1.1"/>
<path d="M643.1,233.56 L647.5000000000001,233.56 L645.3000000000001,229.82000000000002 Z" fill="#636363"/>
<path d="M642.6,249.76 L647.0000000000001,249.76 L644.8000000000001,246.02 Z" fill="#636363"/>
<path d="M643.7,256.04 L648.1000000000001,256.04 L645.9000000000001,259.78000000000003 Z" fill="#636363"/>
<rect x="652.55" y="254.20" width="9.10" height="138.60" fill="#f9bfbf" stroke="#ec4a4c" stroke-width="1.1"/>
<line x1="657.10" y1="241.35" x2="657.10" y2="267.05" stroke="#ec4a4c" stroke-width="1.1"/>
<line x1="654.30" y1="241.35" x2="659.90" y2="241.35" stroke="#ec4a4c" stroke-width="1.1"/>
<line x1="654.30" y1="267.05" x2="659.90" y2="267.05" stroke="#ec4a4c" stroke-width="1.1"/>
<path d="M654.4,242.91 L658.8000000000001,242.91 L656.6,239.17000000000002 Z" fill="#ec4a4c"/>
<path d="M657.7,248.145 L659.9000000000001,250.345 L657.7,252.545 L655.5,250.345 Z" fill="#ec4a4c"/>
<path d="M654.9,265.48999999999995 L659.3000000000001,265.48999999999995 L657.1,269.22999999999996 Z" fill="#ec4a4c"/>
<rect x="664.35" y="240.60" width="9.10" height="152.20" fill="#b4cbf3" stroke="#2f74dc" stroke-width="1.1"/>
<line x1="668.90" y1="223.30" x2="668.90" y2="257.90" stroke="#2f74dc" stroke-width="1.1"/>
<line x1="666.10" y1="223.30" x2="671.70" y2="223.30" stroke="#2f74dc" stroke-width="1.1"/>
<line x1="666.10" y1="257.90" x2="671.70" y2="257.90" stroke="#2f74dc" stroke-width="1.1"/>
<path d="M667.3000000000001,224.86 L671.7000000000002,224.86 L669.5000000000001,221.12000000000003 Z" fill="#2f74dc"/>
<path d="M666.7,243.165 L671.1000000000001,243.165 L668.9000000000001,246.90499999999997 Z" fill="#2f74dc"/>
<path d="M666.2,256.34 L670.6000000000001,256.34 L668.4000000000001,260.08 Z" fill="#2f74dc"/>
<rect x="676.15" y="251.50" width="9.10" height="141.30" fill="#b9e2cc" stroke="#3fa86c" stroke-width="1.1"/>
<line x1="680.70" y1="240.30" x2="680.70" y2="262.70" stroke="#3fa86c" stroke-width="1.1"/>
<line x1="677.90" y1="240.30" x2="683.50" y2="240.30" stroke="#3fa86c" stroke-width="1.1"/>
<line x1="677.90" y1="262.70" x2="683.50" y2="262.70" stroke="#3fa86c" stroke-width="1.1"/>
<path d="M678.5,241.86 L682.9000000000001,241.86 L680.7,238.12000000000003 Z" fill="#3fa86c"/>
<path d="M678.0,256.06 L682.4000000000001,256.06 L680.2,252.32000000000002 Z" fill="#3fa86c"/>
<path d="M679.1,261.14 L683.5000000000001,261.14 L681.3000000000001,264.88 Z" fill="#3fa86c"/>
<rect x="687.95" y="265.40" width="9.10" height="127.40" fill="#e3d1f6" stroke="#b07fe6" stroke-width="1.1"/>
<line x1="692.50" y1="248.95" x2="692.50" y2="281.85" stroke="#b07fe6" stroke-width="1.1"/>
<line x1="689.70" y1="248.95" x2="695.30" y2="248.95" stroke="#b07fe6" stroke-width="1.1"/>
<line x1="689.70" y1="281.85" x2="695.30" y2="281.85" stroke="#b07fe6" stroke-width="1.1"/>
<path d="M689.8000000000001,250.51 L694.2000000000002,250.51 L692.0000000000001,246.77 Z" fill="#b07fe6"/>
<path d="M693.1000000000001,258.265 L695.3000000000002,260.465 L693.1000000000001,262.66499999999996 L690.9000000000001,260.465 Z" fill="#b07fe6"/>
<path d="M690.3000000000001,280.28999999999996 L694.7000000000002,280.28999999999996 L692.5000000000001,284.03 Z" fill="#b07fe6"/>
<rect x="714.55" y="253.00" width="9.10" height="139.80" fill="#c0c0c0" stroke="#636363" stroke-width="1.1"/>
<line x1="719.10" y1="246.45" x2="719.10" y2="259.55" stroke="#636363" stroke-width="1.1"/>
<line x1="716.30" y1="246.45" x2="721.90" y2="246.45" stroke="#636363" stroke-width="1.1"/>
<line x1="716.30" y1="259.55" x2="721.90" y2="259.55" stroke="#636363" stroke-width="1.1"/>
<path d="M716.4,248.01 L720.8000000000001,248.01 L718.6,244.27 Z" fill="#636363"/>
<path d="M719.7,248.835 L721.9000000000001,251.035 L719.7,253.23499999999999 L717.5,251.035 Z" fill="#636363"/>
<path d="M716.9,257.99 L721.3000000000001,257.99 L719.1,261.73 Z" fill="#636363"/>
<rect x="726.35" y="243.50" width="9.10" height="149.30" fill="#f9bfbf" stroke="#ec4a4c" stroke-width="1.1"/>
<line x1="730.90" y1="235.55" x2="730.90" y2="251.45" stroke="#ec4a4c" stroke-width="1.1"/>
<line x1="728.10" y1="235.55" x2="733.70" y2="235.55" stroke="#ec4a4c" stroke-width="1.1"/>
<line x1="728.10" y1="251.45" x2="733.70" y2="251.45" stroke="#ec4a4c" stroke-width="1.1"/>
<path d="M729.3,237.11 L733.7,237.11 L731.5,233.37000000000003 Z" fill="#ec4a4c"/>
<path d="M728.6999999999999,243.72750000000002 L733.1,243.72750000000002 L730.9,247.4675 Z" fill="#ec4a4c"/>
<path d="M728.1999999999999,249.89 L732.6,249.89 L730.4,253.62999999999997 Z" fill="#ec4a4c"/>
<rect x="738.15" y="253.30" width="9.10" height="139.50" fill="#b4cbf3" stroke="#2f74dc" stroke-width="1.1"/>
<line x1="742.70" y1="246.85" x2="742.70" y2="259.75" stroke="#2f74dc" stroke-width="1.1"/>
<line x1="739.90" y1="246.85" x2="745.50" y2="246.85" stroke="#2f74dc" stroke-width="1.1"/>
<line x1="739.90" y1="259.75" x2="745.50" y2="259.75" stroke="#2f74dc" stroke-width="1.1"/>
<path d="M740.5,248.41000000000003 L744.9000000000001,248.41000000000003 L742.7,244.67000000000004 Z" fill="#2f74dc"/>
<path d="M740.0,256.6725 L744.4000000000001,256.6725 L742.2,252.93250000000003 Z" fill="#2f74dc"/>
<path d="M741.1,258.19 L745.5000000000001,258.19 L743.3000000000001,261.93 Z" fill="#2f74dc"/>
<rect x="749.95" y="259.20" width="9.10" height="133.60" fill="#b9e2cc" stroke="#3fa86c" stroke-width="1.1"/>
<line x1="754.50" y1="243.15" x2="754.50" y2="275.25" stroke="#3fa86c" stroke-width="1.1"/>
<line x1="751.70" y1="243.15" x2="757.30" y2="243.15" stroke="#3fa86c" stroke-width="1.1"/>
<line x1="751.70" y1="275.25" x2="757.30" y2="275.25" stroke="#3fa86c" stroke-width="1.1"/>
<path d="M751.8,244.71 L756.2,244.71 L754.0,240.97000000000003 Z" fill="#3fa86c"/>
<path d="M755.1,252.185 L757.3000000000001,254.385 L755.1,256.585 L752.9,254.385 Z" fill="#3fa86c"/>
<path d="M752.3,273.69 L756.7,273.69 L754.5,277.43 Z" fill="#3fa86c"/>
<rect x="761.75" y="244.10" width="9.10" height="148.70" fill="#e3d1f6" stroke="#b07fe6" stroke-width="1.1"/>
<line x1="766.30" y1="228.30" x2="766.30" y2="259.90" stroke="#b07fe6" stroke-width="1.1"/>
<line x1="763.50" y1="228.30" x2="769.10" y2="228.30" stroke="#b07fe6" stroke-width="1.1"/>
<line x1="763.50" y1="259.90" x2="769.10" y2="259.90" stroke="#b07fe6" stroke-width="1.1"/>
<path d="M764.7,229.86 L769.1000000000001,229.86 L766.9000000000001,226.12000000000003 Z" fill="#b07fe6"/>
<path d="M764.1,246.29 L768.5000000000001,246.29 L766.3000000000001,250.02999999999997 Z" fill="#b07fe6"/>
<path d="M763.6,258.34 L768.0000000000001,258.34 L765.8000000000001,262.08 Z" fill="#b07fe6"/>
<rect x="484" y="183.2" width="295.4" height="209.60000000000002" fill="none" stroke="#000" stroke-width="2.0"/>
<line x1="480" y1="392.80" x2="484" y2="392.80" stroke="#000" stroke-width="1.6"/>
<text x="477" y="397.0" font-size="12.7" text-anchor="end" fill="#1e1e1e" >0.0</text>
<line x1="480" y1="346.22" x2="484" y2="346.22" stroke="#000" stroke-width="1.6"/>
<text x="477" y="350.42" font-size="12.7" text-anchor="end" fill="#1e1e1e" >0.5</text>
<line x1="480" y1="299.64" x2="484" y2="299.64" stroke="#000" stroke-width="1.6"/>
<text x="477" y="303.84" font-size="12.7" text-anchor="end" fill="#1e1e1e" >1.0</text>
<line x1="480" y1="253.06" x2="484" y2="253.06" stroke="#000" stroke-width="1.6"/>
<text x="477" y="257.26" font-size="12.7" text-anchor="end" fill="#1e1e1e" >1.5</text>
<line x1="480" y1="206.48" x2="484" y2="206.48" stroke="#000" stroke-width="1.6"/>
<text x="477" y="210.68" font-size="12.7" text-anchor="end" fill="#1e1e1e" >2.0</text>
<line x1="481.8" y1="369.51" x2="484" y2="369.51" stroke="#000" stroke-width="1.4"/>
<line x1="481.8" y1="322.93" x2="484" y2="322.93" stroke="#000" stroke-width="1.4"/>
<line x1="481.8" y1="276.35" x2="484" y2="276.35" stroke="#000" stroke-width="1.4"/>
<line x1="481.8" y1="229.77" x2="484" y2="229.77" stroke="#000" stroke-width="1.4"/>
<text x="521.1" y="408.2" font-size="12.6" text-anchor="middle" fill="#222" >24</text>
<text x="595.1" y="408.2" font-size="12.6" text-anchor="middle" fill="#222" >48</text>
<text x="668.6" y="408.2" font-size="12.6" text-anchor="middle" fill="#222" >72</text>
<text x="742.4" y="408.2" font-size="12.6" text-anchor="middle" fill="#222" >96</text>
<text x="639.7" y="427.9" font-size="14.2" text-anchor="middle" fill="#111" >Time (h)</text>
<text transform="translate(447.3,395.7) rotate(-90)" x="0" y="0" font-size="15.1" fill="#111">FPase/intracellular protein (U/mg)</text>
<text x="600.5" y="174.2" font-size="17.8" fill="#111">With Cu<tspan font-size="11.2" dx="0.3" dy="-6.6">2+</tspan></text>
<rect x="488.3" y="190.8" width="9.2" height="5" fill="#c0c0c0" stroke="#636363" stroke-width="1.1"/>
<text x="505.2" y="197.9" font-size="14.3" fill="#111" >Rut-C30</text>
<rect x="488.3" y="208.5" width="9.2" height="5" fill="#f9bfbf" stroke="#ec4a4c" stroke-width="1.1"/>
<text x="505.2" y="215.6" font-size="14.3" fill="#111" >ptcustr2</text>
<rect x="488.3" y="226.20000000000002" width="9.2" height="5" fill="#b4cbf3" stroke="#2f74dc" stroke-width="1.1"/>
<text x="505.2" y="233.3" font-size="14.3" fill="#111" >ptcu55077</text>
<rect x="488.3" y="243.9" width="9.2" height="5" fill="#b9e2cc" stroke="#3fa86c" stroke-width="1.1"/>
<text x="505.2" y="251.0" font-size="14.3" fill="#111" >ptcu62380</text>
<rect x="488.3" y="261.6" width="9.2" height="5" fill="#e3d1f6" stroke="#b07fe6" stroke-width="1.1"/>
<text x="505.2" y="268.7" font-size="14.3" fill="#111" >ptcu65493</text>
<rect x="65.05" y="645.80" width="8.60" height="26.00" fill="#c0c0c0" stroke="#636363" stroke-width="1.1"/>
<line x1="69.35" y1="642.55" x2="69.35" y2="649.05" stroke="#636363" stroke-width="1.1"/>
<line x1="66.55" y1="642.55" x2="72.15" y2="642.55" stroke="#636363" stroke-width="1.1"/>
<line x1="66.55" y1="649.05" x2="72.15" y2="649.05" stroke="#636363" stroke-width="1.1"/>
<path d="M66.64999999999999,644.1099999999999 L71.05,644.1099999999999 L68.85,640.3699999999999 Z" fill="#636363"/>
<path d="M69.94999999999999,642.6249999999999 L72.14999999999999,644.8249999999999 L69.94999999999999,647.025 L67.74999999999999,644.8249999999999 Z" fill="#636363"/>
<path d="M67.14999999999999,647.49 L71.55,647.49 L69.35,651.23 Z" fill="#636363"/>
<rect x="76.18" y="644.50" width="8.60" height="27.30" fill="#f9bfbf" stroke="#ec4a4c" stroke-width="1.1"/>
<line x1="80.48" y1="642.55" x2="80.48" y2="646.45" stroke="#ec4a4c" stroke-width="1.1"/>
<line x1="77.68" y1="642.55" x2="83.28" y2="642.55" stroke="#ec4a4c" stroke-width="1.1"/>
<line x1="77.68" y1="646.45" x2="83.28" y2="646.45" stroke="#ec4a4c" stroke-width="1.1"/>
<path d="M78.87999999999998,644.1099999999999 L83.27999999999999,644.1099999999999 L81.07999999999998,640.3699999999999 Z" fill="#ec4a4c"/>
<path d="M78.27999999999999,643.2275 L82.67999999999999,643.2275 L80.47999999999999,646.9675 Z" fill="#ec4a4c"/>
<path d="M77.77999999999999,644.8900000000001 L82.17999999999999,644.8900000000001 L79.97999999999999,648.6300000000001 Z" fill="#ec4a4c"/>
<rect x="87.31" y="653.80" width="8.60" height="18.00" fill="#b4cbf3" stroke="#2f74dc" stroke-width="1.1"/>
<line x1="91.61" y1="651.95" x2="91.61" y2="655.65" stroke="#2f74dc" stroke-width="1.1"/>
<line x1="88.81" y1="651.95" x2="94.41" y2="651.95" stroke="#2f74dc" stroke-width="1.1"/>
<line x1="88.81" y1="655.65" x2="94.41" y2="655.65" stroke="#2f74dc" stroke-width="1.1"/>
<path d="M89.41,653.5099999999999 L93.81,653.5099999999999 L91.61,649.7699999999999 Z" fill="#2f74dc"/>
<path d="M88.91,656.0224999999999 L93.31,656.0224999999999 L91.11,652.2824999999999 Z" fill="#2f74dc"/>
<path d="M90.00999999999999,654.09 L94.41,654.09 L92.21,657.83 Z" fill="#2f74dc"/>
<rect x="98.44" y="648.80" width="8.60" height="23.00" fill="#b9e2cc" stroke="#3fa86c" stroke-width="1.1"/>
<line x1="102.74" y1="646.55" x2="102.74" y2="651.05" stroke="#3fa86c" stroke-width="1.1"/>
<line x1="99.94" y1="646.55" x2="105.54" y2="646.55" stroke="#3fa86c" stroke-width="1.1"/>
<line x1="99.94" y1="651.05" x2="105.54" y2="651.05" stroke="#3fa86c" stroke-width="1.1"/>
<path d="M100.03999999999999,648.1099999999999 L104.44,648.1099999999999 L102.24,644.3699999999999 Z" fill="#3fa86c"/>
<path d="M103.33999999999999,645.925 L105.53999999999999,648.125 L103.33999999999999,650.325 L101.13999999999999,648.125 Z" fill="#3fa86c"/>
<path d="M100.53999999999999,649.49 L104.94,649.49 L102.74,653.23 Z" fill="#3fa86c"/>
<rect x="109.57" y="651.20" width="8.60" height="20.60" fill="#e3d1f6" stroke="#b07fe6" stroke-width="1.1"/>
<line x1="113.87" y1="644.50" x2="113.87" y2="657.90" stroke="#b07fe6" stroke-width="1.1"/>
<line x1="111.07" y1="644.50" x2="116.67" y2="644.50" stroke="#b07fe6" stroke-width="1.1"/>
<line x1="111.07" y1="657.90" x2="116.67" y2="657.90" stroke="#b07fe6" stroke-width="1.1"/>
<path d="M112.27,646.06 L116.67,646.06 L114.47,642.3199999999999 Z" fill="#b07fe6"/>
<path d="M111.67,651.115 L116.07000000000001,651.115 L113.87,654.855 Z" fill="#b07fe6"/>
<path d="M111.17,656.3400000000001 L115.57000000000001,656.3400000000001 L113.37,660.0800000000002 Z" fill="#b07fe6"/>
<rect x="120.70" y="622.10" width="8.60" height="49.70" fill="#eedba7" stroke="#d9a528" stroke-width="1.1"/>
<line x1="125.00" y1="614.00" x2="125.00" y2="630.20" stroke="#d9a528" stroke-width="1.1"/>
<line x1="122.20" y1="614.00" x2="127.80" y2="614.00" stroke="#d9a528" stroke-width="1.1"/>
<line x1="122.20" y1="630.20" x2="127.80" y2="630.20" stroke="#d9a528" stroke-width="1.1"/>
<path d="M122.8,615.56 L127.2,615.56 L125.0,611.8199999999999 Z" fill="#d9a528"/>
<path d="M122.3,625.885 L126.7,625.885 L124.5,622.145 Z" fill="#d9a528"/>
<path d="M123.39999999999999,628.6400000000001 L127.8,628.6400000000001 L125.6,632.3800000000001 Z" fill="#d9a528"/>
<rect x="131.83" y="658.10" width="8.60" height="13.70" fill="#a8ece9" stroke="#2fd0cc" stroke-width="1.1"/>
<line x1="136.13" y1="656.00" x2="136.13" y2="660.20" stroke="#2fd0cc" stroke-width="1.1"/>
<line x1="133.33" y1="656.00" x2="138.93" y2="656.00" stroke="#2fd0cc" stroke-width="1.1"/>
<line x1="133.33" y1="660.20" x2="138.93" y2="660.20" stroke="#2fd0cc" stroke-width="1.1"/>
<path d="M133.43,657.56 L137.82999999999998,657.56 L135.63,653.8199999999999 Z" fill="#2fd0cc"/>
<path d="M136.73,655.27 L138.92999999999998,657.47 L136.73,659.6700000000001 L134.53,657.47 Z" fill="#2fd0cc"/>
<path d="M133.93,658.6400000000001 L138.32999999999998,658.6400000000001 L136.13,662.3800000000001 Z" fill="#2fd0cc"/>
<rect x="152.05" y="577.30" width="8.60" height="94.50" fill="#c0c0c0" stroke="#636363" stroke-width="1.1"/>
<line x1="156.35" y1="570.45" x2="156.35" y2="584.15" stroke="#636363" stroke-width="1.1"/>
<line x1="153.55" y1="570.45" x2="159.15" y2="570.45" stroke="#636363" stroke-width="1.1"/>
<line x1="153.55" y1="584.15" x2="159.15" y2="584.15" stroke="#636363" stroke-width="1.1"/>
<path d="M154.75,572.0099999999999 L159.14999999999998,572.0099999999999 L156.95,568.2699999999999 Z" fill="#636363"/>
<path d="M154.15,577.2524999999999 L158.54999999999998,577.2524999999999 L156.35,580.9925 Z" fill="#636363"/>
<path d="M153.65,582.59 L158.04999999999998,582.59 L155.85,586.33 Z" fill="#636363"/>
<rect x="163.18" y="569.80" width="8.60" height="102.00" fill="#f9bfbf" stroke="#ec4a4c" stroke-width="1.1"/>
<line x1="167.48" y1="566.05" x2="167.48" y2="573.55" stroke="#ec4a4c" stroke-width="1.1"/>
<line x1="164.68" y1="566.05" x2="170.28" y2="566.05" stroke="#ec4a4c" stroke-width="1.1"/>
<line x1="164.68" y1="573.55" x2="170.28" y2="573.55" stroke="#ec4a4c" stroke-width="1.1"/>
<path d="M165.28,567.6099999999999 L169.67999999999998,567.6099999999999 L167.48,563.8699999999999 Z" fill="#ec4a4c"/>
<path d="M164.78,572.4975 L169.17999999999998,572.4975 L166.98,568.7574999999999 Z" fill="#ec4a4c"/>
<path d="M165.88,571.99 L170.27999999999997,571.99 L168.07999999999998,575.73 Z" fill="#ec4a4c"/>
<rect x="174.31" y="577.30" width="8.60" height="94.50" fill="#b4cbf3" stroke="#2f74dc" stroke-width="1.1"/>
<line x1="178.61" y1="576.00" x2="178.61" y2="578.60" stroke="#2f74dc" stroke-width="1.1"/>
<line x1="175.81" y1="576.00" x2="181.41" y2="576.00" stroke="#2f74dc" stroke-width="1.1"/>
<line x1="175.81" y1="578.60" x2="181.41" y2="578.60" stroke="#2f74dc" stroke-width="1.1"/>
<path d="M175.91,577.56 L180.30999999999997,577.56 L178.10999999999999,573.8199999999999 Z" fill="#2f74dc"/>
<path d="M179.20999999999998,574.7099999999999 L181.40999999999997,576.91 L179.20999999999998,579.11 L177.01,576.91 Z" fill="#2f74dc"/>
<path d="M176.41,577.04 L180.80999999999997,577.04 L178.60999999999999,580.78 Z" fill="#2f74dc"/>
<rect x="185.44" y="579.20" width="8.60" height="92.60" fill="#b9e2cc" stroke="#3fa86c" stroke-width="1.1"/>
<line x1="189.74" y1="571.05" x2="189.74" y2="587.35" stroke="#3fa86c" stroke-width="1.1"/>
<line x1="186.94" y1="571.05" x2="192.54" y2="571.05" stroke="#3fa86c" stroke-width="1.1"/>
<line x1="186.94" y1="587.35" x2="192.54" y2="587.35" stroke="#3fa86c" stroke-width="1.1"/>
<path d="M188.14,572.6099999999999 L192.53999999999996,572.6099999999999 L190.33999999999997,568.8699999999999 Z" fill="#3fa86c"/>
<path d="M187.54,579.4775000000001 L191.93999999999997,579.4775000000001 L189.73999999999998,583.2175000000001 Z" fill="#3fa86c"/>
<path d="M187.04,585.7900000000002 L191.43999999999997,585.7900000000002 L189.23999999999998,589.5300000000002 Z" fill="#3fa86c"/>
<rect x="196.57" y="583.50" width="8.60" height="88.30" fill="#e3d1f6" stroke="#b07fe6" stroke-width="1.1"/>
<line x1="200.87" y1="568.35" x2="200.87" y2="598.65" stroke="#b07fe6" stroke-width="1.1"/>
<line x1="198.07" y1="568.35" x2="203.67" y2="568.35" stroke="#b07fe6" stroke-width="1.1"/>
<line x1="198.07" y1="598.65" x2="203.67" y2="598.65" stroke="#b07fe6" stroke-width="1.1"/>
<path d="M198.67000000000002,569.91 L203.07,569.91 L200.87,566.17 Z" fill="#b07fe6"/>
<path d="M198.17000000000002,589.0475 L202.57,589.0475 L200.37,585.3075 Z" fill="#b07fe6"/>
<path d="M199.27,597.09 L203.67,597.09 L201.47,600.83 Z" fill="#b07fe6"/>
<rect x="207.70" y="548.30" width="8.60" height="123.50" fill="#eedba7" stroke="#d9a528" stroke-width="1.1"/>
<line x1="212.00" y1="529.95" x2="212.00" y2="566.65" stroke="#d9a528" stroke-width="1.1"/>
<line x1="209.20" y1="529.95" x2="214.80" y2="529.95" stroke="#d9a528" stroke-width="1.1"/>
<line x1="209.20" y1="566.65" x2="214.80" y2="566.65" stroke="#d9a528" stroke-width="1.1"/>
<path d="M209.3,531.5099999999999 L213.7,531.5099999999999 L211.5,527.7699999999999 Z" fill="#d9a528"/>
<path d="M212.6,540.5949999999999 L214.79999999999998,542.795 L212.6,544.995 L210.4,542.795 Z" fill="#d9a528"/>
<path d="M209.8,565.09 L214.2,565.09 L212.0,568.83 Z" fill="#d9a528"/>
<rect x="218.83" y="631.80" width="8.60" height="40.00" fill="#a8ece9" stroke="#2fd0cc" stroke-width="1.1"/>
<line x1="223.13" y1="625.45" x2="223.13" y2="638.15" stroke="#2fd0cc" stroke-width="1.1"/>
<line x1="220.33" y1="625.45" x2="225.93" y2="625.45" stroke="#2fd0cc" stroke-width="1.1"/>
<line x1="220.33" y1="638.15" x2="225.93" y2="638.15" stroke="#2fd0cc" stroke-width="1.1"/>
<path d="M221.53,627.0099999999999 L225.92999999999998,627.0099999999999 L223.73,623.2699999999999 Z" fill="#2fd0cc"/>
<path d="M220.93,631.6274999999999 L225.32999999999998,631.6274999999999 L223.13,635.3675 Z" fill="#2fd0cc"/>
<path d="M220.43,636.59 L224.82999999999998,636.59 L222.63,640.33 Z" fill="#2fd0cc"/>
<rect x="239.05" y="551.20" width="8.60" height="120.60" fill="#c0c0c0" stroke="#636363" stroke-width="1.1"/>
<line x1="243.35" y1="549.90" x2="243.35" y2="552.50" stroke="#636363" stroke-width="1.1"/>
<line x1="240.55" y1="549.90" x2="246.15" y2="549.90" stroke="#636363" stroke-width="1.1"/>
<line x1="240.55" y1="552.50" x2="246.15" y2="552.50" stroke="#636363" stroke-width="1.1"/>
<path d="M241.15,551.46 L245.54999999999998,551.46 L243.35,547.72 Z" fill="#636363"/>
<path d="M240.65,553.2850000000001 L245.04999999999998,553.2850000000001 L242.85,549.5450000000001 Z" fill="#636363"/>
<path d="M241.75,550.94 L246.14999999999998,550.94 L243.95,554.6800000000001 Z" fill="#636363"/>
<rect x="250.18" y="551.70" width="8.60" height="120.10" fill="#f9bfbf" stroke="#ec4a4c" stroke-width="1.1"/>
<line x1="254.48" y1="548.15" x2="254.48" y2="555.25" stroke="#ec4a4c" stroke-width="1.1"/>
<line x1="251.68" y1="548.15" x2="257.28" y2="548.15" stroke="#ec4a4c" stroke-width="1.1"/>
<line x1="251.68" y1="555.25" x2="257.28" y2="555.25" stroke="#ec4a4c" stroke-width="1.1"/>
<path d="M251.78,549.71 L256.18,549.71 L253.98,545.97 Z" fill="#ec4a4c"/>
<path d="M255.07999999999998,548.435 L257.28,550.635 L255.07999999999998,552.835 L252.88,550.635 Z" fill="#ec4a4c"/>
<path d="M252.28,553.69 L256.68,553.69 L254.48,557.4300000000001 Z" fill="#ec4a4c"/>
<rect x="261.31" y="559.20" width="8.60" height="112.60" fill="#b4cbf3" stroke="#2f74dc" stroke-width="1.1"/>
<line x1="265.61" y1="554.20" x2="265.61" y2="564.20" stroke="#2f74dc" stroke-width="1.1"/>
<line x1="262.81" y1="554.20" x2="268.41" y2="554.20" stroke="#2f74dc" stroke-width="1.1"/>
<line x1="262.81" y1="564.20" x2="268.41" y2="564.20" stroke="#2f74dc" stroke-width="1.1"/>
<path d="M264.01000000000005,555.76 L268.41,555.76 L266.21000000000004,552.02 Z" fill="#2f74dc"/>
<path d="M263.41,558.69 L267.81,558.69 L265.61,562.4300000000001 Z" fill="#2f74dc"/>
<path d="M262.91,562.6400000000001 L267.31,562.6400000000001 L265.11,566.3800000000001 Z" fill="#2f74dc"/>
<rect x="272.44" y="565.50" width="8.60" height="106.30" fill="#b9e2cc" stroke="#3fa86c" stroke-width="1.1"/>
<line x1="276.74" y1="561.70" x2="276.74" y2="569.30" stroke="#3fa86c" stroke-width="1.1"/>
<line x1="273.94" y1="561.70" x2="279.54" y2="561.70" stroke="#3fa86c" stroke-width="1.1"/>
<line x1="273.94" y1="569.30" x2="279.54" y2="569.30" stroke="#3fa86c" stroke-width="1.1"/>
<path d="M274.54,563.26 L278.94,563.26 L276.74,559.52 Z" fill="#3fa86c"/>
<path d="M274.04,568.21 L278.44,568.21 L276.24,564.47 Z" fill="#3fa86c"/>
<path d="M275.14000000000004,567.74 L279.54,567.74 L277.34000000000003,571.48 Z" fill="#3fa86c"/>
<rect x="283.57" y="561.00" width="8.60" height="110.80" fill="#e3d1f6" stroke="#b07fe6" stroke-width="1.1"/>
<line x1="287.87" y1="549.80" x2="287.87" y2="572.20" stroke="#b07fe6" stroke-width="1.1"/>
<line x1="285.07" y1="549.80" x2="290.67" y2="549.80" stroke="#b07fe6" stroke-width="1.1"/>
<line x1="285.07" y1="572.20" x2="290.67" y2="572.20" stroke="#b07fe6" stroke-width="1.1"/>
<path d="M285.17,551.3599999999999 L289.57,551.3599999999999 L287.37,547.6199999999999 Z" fill="#b07fe6"/>
<path d="M288.47,555.4399999999999 L290.67,557.64 L288.47,559.84 L286.27000000000004,557.64 Z" fill="#b07fe6"/>
<path d="M285.67,570.6400000000001 L290.07,570.6400000000001 L287.87,574.3800000000001 Z" fill="#b07fe6"/>
<rect x="294.70" y="542.30" width="8.60" height="129.50" fill="#eedba7" stroke="#d9a528" stroke-width="1.1"/>
<line x1="299.00" y1="535.00" x2="299.00" y2="549.60" stroke="#d9a528" stroke-width="1.1"/>
<line x1="296.20" y1="535.00" x2="301.80" y2="535.00" stroke="#d9a528" stroke-width="1.1"/>
<line x1="296.20" y1="549.60" x2="301.80" y2="549.60" stroke="#d9a528" stroke-width="1.1"/>
<path d="M297.40000000000003,536.56 L301.8,536.56 L299.6,532.8199999999999 Z" fill="#d9a528"/>
<path d="M296.8,542.365 L301.2,542.365 L299.0,546.105 Z" fill="#d9a528"/>
<path d="M296.3,548.04 L300.7,548.04 L298.5,551.78 Z" fill="#d9a528"/>
<rect x="305.83" y="595.30" width="8.60" height="76.50" fill="#a8ece9" stroke="#2fd0cc" stroke-width="1.1"/>
<line x1="310.13" y1="579.45" x2="310.13" y2="611.15" stroke="#2fd0cc" stroke-width="1.1"/>
<line x1="307.33" y1="579.45" x2="312.93" y2="579.45" stroke="#2fd0cc" stroke-width="1.1"/>
<line x1="307.33" y1="611.15" x2="312.93" y2="611.15" stroke="#2fd0cc" stroke-width="1.1"/>
<path d="M307.93,581.01 L312.33,581.01 L310.13,577.27 Z" fill="#2fd0cc"/>
<path d="M307.43,601.0224999999999 L311.83,601.0224999999999 L309.63,597.2824999999999 Z" fill="#2fd0cc"/>
<path d="M308.53000000000003,609.5899999999999 L312.93,609.5899999999999 L310.73,613.3299999999999 Z" fill="#2fd0cc"/>
<rect x="326.05" y="524.50" width="8.60" height="147.30" fill="#c0c0c0" stroke="#636363" stroke-width="1.1"/>
<line x1="330.35" y1="514.80" x2="330.35" y2="534.20" stroke="#636363" stroke-width="1.1"/>
<line x1="327.55" y1="514.80" x2="333.15" y2="514.80" stroke="#636363" stroke-width="1.1"/>
<line x1="327.55" y1="534.20" x2="333.15" y2="534.20" stroke="#636363" stroke-width="1.1"/>
<path d="M327.65000000000003,516.3599999999999 L332.05,516.3599999999999 L329.85,512.6199999999999 Z" fill="#636363"/>
<path d="M330.95000000000005,519.39 L333.15000000000003,521.59 L330.95000000000005,523.7900000000001 L328.75000000000006,521.59 Z" fill="#636363"/>
<path d="M328.15000000000003,532.6400000000001 L332.55,532.6400000000001 L330.35,536.3800000000001 Z" fill="#636363"/>
<rect x="337.18" y="532.30" width="8.60" height="139.50" fill="#f9bfbf" stroke="#ec4a4c" stroke-width="1.1"/>
<line x1="341.48" y1="521.20" x2="341.48" y2="543.40" stroke="#ec4a4c" stroke-width="1.1"/>
<line x1="338.68" y1="521.20" x2="344.28" y2="521.20" stroke="#ec4a4c" stroke-width="1.1"/>
<line x1="338.68" y1="543.40" x2="344.28" y2="543.40" stroke="#ec4a4c" stroke-width="1.1"/>
<path d="M339.88000000000005,522.76 L344.28000000000003,522.76 L342.08000000000004,519.02 Z" fill="#ec4a4c"/>
<path d="M339.28000000000003,533.3149999999999 L343.68,533.3149999999999 L341.48,537.055 Z" fill="#ec4a4c"/>
<path d="M338.78000000000003,541.8399999999999 L343.18,541.8399999999999 L340.98,545.5799999999999 Z" fill="#ec4a4c"/>
<rect x="348.31" y="540.80" width="8.60" height="131.00" fill="#b4cbf3" stroke="#2f74dc" stroke-width="1.1"/>
<line x1="352.61" y1="525.15" x2="352.61" y2="556.45" stroke="#2f74dc" stroke-width="1.1"/>
<line x1="349.81" y1="525.15" x2="355.41" y2="525.15" stroke="#2f74dc" stroke-width="1.1"/>
<line x1="349.81" y1="556.45" x2="355.41" y2="556.45" stroke="#2f74dc" stroke-width="1.1"/>
<path d="M350.41,526.7099999999999 L354.81,526.7099999999999 L352.61,522.9699999999999 Z" fill="#2f74dc"/>
<path d="M349.91,546.4725 L354.31,546.4725 L352.11,542.7325 Z" fill="#2f74dc"/>
<path d="M351.01000000000005,554.89 L355.41,554.89 L353.21000000000004,558.63 Z" fill="#2f74dc"/>
<rect x="359.44" y="537.30" width="8.60" height="134.50" fill="#b9e2cc" stroke="#3fa86c" stroke-width="1.1"/>
<line x1="363.74" y1="527.95" x2="363.74" y2="546.65" stroke="#3fa86c" stroke-width="1.1"/>
<line x1="360.94" y1="527.95" x2="366.54" y2="527.95" stroke="#3fa86c" stroke-width="1.1"/>
<line x1="360.94" y1="546.65" x2="366.54" y2="546.65" stroke="#3fa86c" stroke-width="1.1"/>
<path d="M361.04,529.51 L365.44,529.51 L363.24,525.77 Z" fill="#3fa86c"/>
<path d="M364.34000000000003,532.295 L366.54,534.495 L364.34000000000003,536.695 L362.14000000000004,534.495 Z" fill="#3fa86c"/>
<path d="M361.54,545.0899999999999 L365.94,545.0899999999999 L363.74,548.8299999999999 Z" fill="#3fa86c"/>
<rect x="370.57" y="529.50" width="8.60" height="142.30" fill="#e3d1f6" stroke="#b07fe6" stroke-width="1.1"/>
<line x1="374.87" y1="519.20" x2="374.87" y2="539.80" stroke="#b07fe6" stroke-width="1.1"/>
<line x1="372.07" y1="519.20" x2="377.67" y2="519.20" stroke="#b07fe6" stroke-width="1.1"/>
<line x1="372.07" y1="539.80" x2="377.67" y2="539.80" stroke="#b07fe6" stroke-width="1.1"/>
<path d="M373.27000000000004,520.76 L377.67,520.76 L375.47,517.02 Z" fill="#b07fe6"/>
<path d="M372.67,530.315 L377.07,530.315 L374.87,534.0550000000001 Z" fill="#b07fe6"/>
<path d="M372.17,538.24 L376.57,538.24 L374.37,541.98 Z" fill="#b07fe6"/>
<rect x="381.70" y="529.70" width="8.60" height="142.10" fill="#eedba7" stroke="#d9a528" stroke-width="1.1"/>
<line x1="386.00" y1="510.15" x2="386.00" y2="549.25" stroke="#d9a528" stroke-width="1.1"/>
<line x1="383.20" y1="510.15" x2="388.80" y2="510.15" stroke="#d9a528" stroke-width="1.1"/>
<line x1="383.20" y1="549.25" x2="388.80" y2="549.25" stroke="#d9a528" stroke-width="1.1"/>
<path d="M383.8,511.7100000000001 L388.2,511.7100000000001 L386.0,507.9700000000001 Z" fill="#d9a528"/>
<path d="M383.3,536.3475000000001 L387.7,536.3475000000001 L385.5,532.6075000000001 Z" fill="#d9a528"/>
<path d="M384.40000000000003,547.69 L388.8,547.69 L386.6,551.4300000000001 Z" fill="#d9a528"/>
<rect x="392.83" y="565.00" width="8.60" height="106.80" fill="#a8ece9" stroke="#2fd0cc" stroke-width="1.1"/>
<line x1="397.13" y1="546.70" x2="397.13" y2="583.30" stroke="#2fd0cc" stroke-width="1.1"/>
<line x1="394.33" y1="546.70" x2="399.93" y2="546.70" stroke="#2fd0cc" stroke-width="1.1"/>
<line x1="394.33" y1="583.30" x2="399.93" y2="583.30" stroke="#2fd0cc" stroke-width="1.1"/>
<path d="M394.43,548.26 L398.83,548.26 L396.63,544.52 Z" fill="#2fd0cc"/>
<path d="M397.73,557.31 L399.93,559.51 L397.73,561.71 L395.53000000000003,559.51 Z" fill="#2fd0cc"/>
<path d="M394.93,581.74 L399.33,581.74 L397.13,585.48 Z" fill="#2fd0cc"/>
<rect x="59.2" y="460" width="348.6" height="211.79999999999995" fill="none" stroke="#000" stroke-width="2.0"/>
<line x1="55.2" y1="671.80" x2="59.2" y2="671.80" stroke="#000" stroke-width="1.6"/>
<text x="52" y="676.0" font-size="12.7" text-anchor="end" fill="#1e1e1e" >0.0</text>
<line x1="55.2" y1="611.45" x2="59.2" y2="611.45" stroke="#000" stroke-width="1.6"/>
<text x="52" y="615.65" font-size="12.7" text-anchor="end" fill="#1e1e1e" >0.5</text>
<line x1="55.2" y1="551.10" x2="59.2" y2="551.10" stroke="#000" stroke-width="1.6"/>
<text x="52" y="555.3" font-size="12.7" text-anchor="end" fill="#1e1e1e" >1.0</text>
<line x1="55.2" y1="490.75" x2="59.2" y2="490.75" stroke="#000" stroke-width="1.6"/>
<text x="52" y="494.94999999999993" font-size="12.7" text-anchor="end" fill="#1e1e1e" >1.5</text>
<line x1="57.0" y1="641.62" x2="59.2" y2="641.62" stroke="#000" stroke-width="1.4"/>
<line x1="57.0" y1="581.27" x2="59.2" y2="581.27" stroke="#000" stroke-width="1.4"/>
<line x1="57.0" y1="520.92" x2="59.2" y2="520.92" stroke="#000" stroke-width="1.4"/>
<text x="102.5" y="687.2" font-size="12.6" text-anchor="middle" fill="#222" >24</text>
<text x="189.5" y="687.2" font-size="12.6" text-anchor="middle" fill="#222" >48</text>
<text x="276.7" y="687.2" font-size="12.6" text-anchor="middle" fill="#222" >72</text>
<text x="363.9" y="687.2" font-size="12.6" text-anchor="middle" fill="#222" >96</text>
<text x="245.5" y="706.7" font-size="14.2" text-anchor="middle" fill="#111" >Time (h)</text>
<text transform="translate(21.9,673.2) rotate(-90)" x="0" y="0" font-size="14.9" fill="#111">FPase/intracellular protein (U/mg)</text>
<text x="194.5" y="454" font-size="17.8" fill="#111">Without Cu<tspan font-size="11.2" dx="0.3" dy="-6.6">2+</tspan></text>
<rect x="61.8" y="468.5" width="8.8" height="5" fill="#c0c0c0" stroke="#636363" stroke-width="1.1"/>
<text x="75.0" y="475.0" font-size="13.5" fill="#111" >Rut-C30</text>
<rect x="61.8" y="485.4" width="8.8" height="5" fill="#f9bfbf" stroke="#ec4a4c" stroke-width="1.1"/>
<text x="75.0" y="491.9" font-size="13.5" fill="#111" >ptcucrt1</text>
<rect x="61.8" y="502.3" width="8.8" height="5" fill="#b4cbf3" stroke="#2f74dc" stroke-width="1.1"/>
<text x="75.0" y="508.8" font-size="13.5" fill="#111" >ptcustp1</text>
<rect x="61.8" y="519.2" width="8.8" height="5" fill="#b9e2cc" stroke="#3fa86c" stroke-width="1.1"/>
<text x="75.0" y="525.7" font-size="13.5" fill="#111" >ptcu46819</text>
<rect x="61.8" y="536.1" width="8.8" height="5" fill="#e3d1f6" stroke="#b07fe6" stroke-width="1.1"/>
<text x="75.0" y="542.6" font-size="13.5" fill="#111" >ptcu69026</text>
<rect x="61.8" y="553.0" width="8.8" height="5" fill="#eedba7" stroke="#d9a528" stroke-width="1.1"/>
<text x="75.0" y="559.5" font-size="13.5" fill="#111" >ptcu77517</text>
<rect x="61.8" y="569.9" width="8.8" height="5" fill="#a8ece9" stroke="#2fd0cc" stroke-width="1.1"/>
<text x="75.0" y="576.4" font-size="13.5" fill="#111" >ptcu106556</text>
<text x="124.5" y="612.0" font-size="12.5" text-anchor="middle" fill="#222" >**</text>
<text x="212.9" y="522.0" font-size="10" text-anchor="middle" fill="#222" >n.s.</text>
<text x="300.0" y="529.7" font-size="10" text-anchor="middle" fill="#222" >n.s.</text>
<rect x="491.25" y="631.20" width="9.10" height="42.60" fill="#c0c0c0" stroke="#636363" stroke-width="1.1"/>
<line x1="495.80" y1="627.40" x2="495.80" y2="635.00" stroke="#636363" stroke-width="1.1"/>
<line x1="493.00" y1="627.40" x2="498.60" y2="627.40" stroke="#636363" stroke-width="1.1"/>
<line x1="493.00" y1="635.00" x2="498.60" y2="635.00" stroke="#636363" stroke-width="1.1"/>
<path d="M493.1,628.96 L497.5,628.96 L495.3,625.22 Z" fill="#636363"/>
<path d="M496.40000000000003,627.86 L498.6,630.0600000000001 L496.40000000000003,632.2600000000001 L494.20000000000005,630.0600000000001 Z" fill="#636363"/>
<path d="M493.6,633.44 L498.0,633.44 L495.8,637.1800000000001 Z" fill="#636363"/>
<rect x="503.30" y="651.00" width="9.10" height="22.80" fill="#f9bfbf" stroke="#ec4a4c" stroke-width="1.1"/>
<line x1="507.85" y1="645.80" x2="507.85" y2="656.20" stroke="#ec4a4c" stroke-width="1.1"/>
<line x1="505.05" y1="645.80" x2="510.65" y2="645.80" stroke="#ec4a4c" stroke-width="1.1"/>
<line x1="505.05" y1="656.20" x2="510.65" y2="656.20" stroke="#ec4a4c" stroke-width="1.1"/>
<path d="M506.25000000000006,647.3599999999999 L510.65000000000003,647.3599999999999 L508.45000000000005,643.6199999999999 Z" fill="#ec4a4c"/>
<path d="M505.65000000000003,650.54 L510.05,650.54 L507.85,654.28 Z" fill="#ec4a4c"/>
<path d="M505.15000000000003,654.6400000000001 L509.55,654.6400000000001 L507.35,658.3800000000001 Z" fill="#ec4a4c"/>
<rect x="515.35" y="642.00" width="9.10" height="31.80" fill="#b4cbf3" stroke="#2f74dc" stroke-width="1.1"/>
<line x1="519.90" y1="638.00" x2="519.90" y2="646.00" stroke="#2f74dc" stroke-width="1.1"/>
<line x1="517.10" y1="638.00" x2="522.70" y2="638.00" stroke="#2f74dc" stroke-width="1.1"/>
<line x1="517.10" y1="646.00" x2="522.70" y2="646.00" stroke="#2f74dc" stroke-width="1.1"/>
<path d="M517.6999999999999,639.56 L522.1,639.56 L519.9,635.8199999999999 Z" fill="#2f74dc"/>
<path d="M517.1999999999999,644.76 L521.6,644.76 L519.4,641.02 Z" fill="#2f74dc"/>
<path d="M518.3,644.44 L522.7,644.44 L520.5,648.1800000000001 Z" fill="#2f74dc"/>
<rect x="527.40" y="648.80" width="9.10" height="25.00" fill="#b9e2cc" stroke="#3fa86c" stroke-width="1.1"/>
<line x1="531.95" y1="647.05" x2="531.95" y2="650.55" stroke="#3fa86c" stroke-width="1.1"/>
<line x1="529.15" y1="647.05" x2="534.75" y2="647.05" stroke="#3fa86c" stroke-width="1.1"/>
<line x1="529.15" y1="650.55" x2="534.75" y2="650.55" stroke="#3fa86c" stroke-width="1.1"/>
<path d="M529.25,648.6099999999999 L533.6500000000001,648.6099999999999 L531.45,644.8699999999999 Z" fill="#3fa86c"/>
<path d="M532.5500000000001,646.0749999999999 L534.7500000000001,648.275 L532.5500000000001,650.475 L530.35,648.275 Z" fill="#3fa86c"/>
<path d="M529.75,648.99 L534.1500000000001,648.99 L531.95,652.73 Z" fill="#3fa86c"/>
<rect x="539.45" y="648.00" width="9.10" height="25.80" fill="#e3d1f6" stroke="#b07fe6" stroke-width="1.1"/>
<line x1="544.00" y1="643.20" x2="544.00" y2="652.80" stroke="#b07fe6" stroke-width="1.1"/>
<line x1="541.20" y1="643.20" x2="546.80" y2="643.20" stroke="#b07fe6" stroke-width="1.1"/>
<line x1="541.20" y1="652.80" x2="546.80" y2="652.80" stroke="#b07fe6" stroke-width="1.1"/>
<path d="M542.4,644.76 L546.8000000000001,644.76 L544.6,641.02 Z" fill="#b07fe6"/>
<path d="M541.8,647.44 L546.2,647.44 L544.0,651.1800000000001 Z" fill="#b07fe6"/>
<path d="M541.3,651.24 L545.7,651.24 L543.5,654.98 Z" fill="#b07fe6"/>
<rect x="566.45" y="578.80" width="9.10" height="95.00" fill="#c0c0c0" stroke="#636363" stroke-width="1.1"/>
<line x1="571.00" y1="571.55" x2="571.00" y2="586.05" stroke="#636363" stroke-width="1.1"/>
<line x1="568.20" y1="571.55" x2="573.80" y2="571.55" stroke="#636363" stroke-width="1.1"/>
<line x1="568.20" y1="586.05" x2="573.80" y2="586.05" stroke="#636363" stroke-width="1.1"/>
<path d="M569.4,573.1099999999999 L573.8000000000001,573.1099999999999 L571.6,569.3699999999999 Z" fill="#636363"/>
<path d="M568.8,578.8525 L573.2,578.8525 L571.0,582.5925 Z" fill="#636363"/>
<path d="M568.3,584.49 L572.7,584.49 L570.5,588.23 Z" fill="#636363"/>
<rect x="578.50" y="605.10" width="9.10" height="68.70" fill="#f9bfbf" stroke="#ec4a4c" stroke-width="1.1"/>
<line x1="583.05" y1="594.90" x2="583.05" y2="615.30" stroke="#ec4a4c" stroke-width="1.1"/>
<line x1="580.25" y1="594.90" x2="585.85" y2="594.90" stroke="#ec4a4c" stroke-width="1.1"/>
<line x1="580.25" y1="615.30" x2="585.85" y2="615.30" stroke="#ec4a4c" stroke-width="1.1"/>
<path d="M580.8499999999999,596.46 L585.25,596.46 L583.05,592.72 Z" fill="#ec4a4c"/>
<path d="M580.3499999999999,609.41 L584.75,609.41 L582.55,605.67 Z" fill="#ec4a4c"/>
<path d="M581.4499999999999,613.74 L585.85,613.74 L583.65,617.48 Z" fill="#ec4a4c"/>
<rect x="590.55" y="589.00" width="9.10" height="84.80" fill="#b4cbf3" stroke="#2f74dc" stroke-width="1.1"/>
<line x1="595.10" y1="586.10" x2="595.10" y2="591.90" stroke="#2f74dc" stroke-width="1.1"/>
<line x1="592.30" y1="586.10" x2="597.90" y2="586.10" stroke="#2f74dc" stroke-width="1.1"/>
<line x1="592.30" y1="591.90" x2="597.90" y2="591.90" stroke="#2f74dc" stroke-width="1.1"/>
<path d="M592.4,587.66 L596.8000000000001,587.66 L594.6,583.92 Z" fill="#2f74dc"/>
<path d="M595.7,585.93 L597.9000000000001,588.13 L595.7,590.33 L593.5,588.13 Z" fill="#2f74dc"/>
<path d="M592.9,590.34 L597.3000000000001,590.34 L595.1,594.08 Z" fill="#2f74dc"/>
<rect x="602.60" y="583.70" width="9.10" height="90.10" fill="#b9e2cc" stroke="#3fa86c" stroke-width="1.1"/>
<line x1="607.15" y1="571.25" x2="607.15" y2="596.15" stroke="#3fa86c" stroke-width="1.1"/>
<line x1="604.35" y1="571.25" x2="609.95" y2="571.25" stroke="#3fa86c" stroke-width="1.1"/>
<line x1="604.35" y1="596.15" x2="609.95" y2="596.15" stroke="#3fa86c" stroke-width="1.1"/>
<path d="M605.55,572.81 L609.95,572.81 L607.75,569.0699999999999 Z" fill="#3fa86c"/>
<path d="M604.9499999999999,585.0525 L609.35,585.0525 L607.15,588.7925 Z" fill="#3fa86c"/>
<path d="M604.4499999999999,594.5900000000001 L608.85,594.5900000000001 L606.65,598.3300000000002 Z" fill="#3fa86c"/>
<rect x="614.65" y="586.70" width="9.10" height="87.10" fill="#e3d1f6" stroke="#b07fe6" stroke-width="1.1"/>
<line x1="619.20" y1="583.05" x2="619.20" y2="590.35" stroke="#b07fe6" stroke-width="1.1"/>
<line x1="616.40" y1="583.05" x2="622.00" y2="583.05" stroke="#b07fe6" stroke-width="1.1"/>
<line x1="616.40" y1="590.35" x2="622.00" y2="590.35" stroke="#b07fe6" stroke-width="1.1"/>
<path d="M617.0,584.61 L621.4000000000001,584.61 L619.2,580.87 Z" fill="#b07fe6"/>
<path d="M616.5,589.3725000000001 L620.9000000000001,589.3725000000001 L618.7,585.6325 Z" fill="#b07fe6"/>
<path d="M617.6,588.7900000000001 L622.0000000000001,588.7900000000001 L619.8000000000001,592.5300000000001 Z" fill="#b07fe6"/>
<rect x="641.65" y="547.10" width="9.10" height="126.70" fill="#c0c0c0" stroke="#636363" stroke-width="1.1"/>
<line x1="646.20" y1="536.35" x2="646.20" y2="557.85" stroke="#636363" stroke-width="1.1"/>
<line x1="643.40" y1="536.35" x2="649.00" y2="536.35" stroke="#636363" stroke-width="1.1"/>
<line x1="643.40" y1="557.85" x2="649.00" y2="557.85" stroke="#636363" stroke-width="1.1"/>
<path d="M644.0,537.91 L648.4000000000001,537.91 L646.2,534.17 Z" fill="#636363"/>
<path d="M643.5,551.5475 L647.9000000000001,551.5475 L645.7,547.8075 Z" fill="#636363"/>
<path d="M644.6,556.2900000000001 L649.0000000000001,556.2900000000001 L646.8000000000001,560.0300000000001 Z" fill="#636363"/>
<rect x="653.70" y="568.20" width="9.10" height="105.60" fill="#f9bfbf" stroke="#ec4a4c" stroke-width="1.1"/>
<line x1="658.25" y1="550.75" x2="658.25" y2="585.65" stroke="#ec4a4c" stroke-width="1.1"/>
<line x1="655.45" y1="550.75" x2="661.05" y2="550.75" stroke="#ec4a4c" stroke-width="1.1"/>
<line x1="655.45" y1="585.65" x2="661.05" y2="585.65" stroke="#ec4a4c" stroke-width="1.1"/>
<path d="M655.55,552.31 L659.95,552.31 L657.75,548.5699999999999 Z" fill="#ec4a4c"/>
<path d="M658.85,560.765 L661.0500000000001,562.965 L658.85,565.1650000000001 L656.65,562.965 Z" fill="#ec4a4c"/>
<path d="M656.05,584.0900000000001 L660.45,584.0900000000001 L658.25,587.8300000000002 Z" fill="#ec4a4c"/>
<rect x="665.75" y="557.50" width="9.10" height="116.30" fill="#b4cbf3" stroke="#2f74dc" stroke-width="1.1"/>
<line x1="670.30" y1="545.15" x2="670.30" y2="569.85" stroke="#2f74dc" stroke-width="1.1"/>
<line x1="667.50" y1="545.15" x2="673.10" y2="545.15" stroke="#2f74dc" stroke-width="1.1"/>
<line x1="667.50" y1="569.85" x2="673.10" y2="569.85" stroke="#2f74dc" stroke-width="1.1"/>
<path d="M668.7,546.7099999999999 L673.1000000000001,546.7099999999999 L670.9000000000001,542.9699999999999 Z" fill="#2f74dc"/>
<path d="M668.1,558.8275 L672.5000000000001,558.8275 L670.3000000000001,562.5675 Z" fill="#2f74dc"/>
<path d="M667.6,568.2900000000001 L672.0000000000001,568.2900000000001 L669.8000000000001,572.0300000000001 Z" fill="#2f74dc"/>
<rect x="677.80" y="556.30" width="9.10" height="117.50" fill="#b9e2cc" stroke="#3fa86c" stroke-width="1.1"/>
<line x1="682.35" y1="543.85" x2="682.35" y2="568.75" stroke="#3fa86c" stroke-width="1.1"/>
<line x1="679.55" y1="543.85" x2="685.15" y2="543.85" stroke="#3fa86c" stroke-width="1.1"/>
<line x1="679.55" y1="568.75" x2="685.15" y2="568.75" stroke="#3fa86c" stroke-width="1.1"/>
<path d="M680.15,545.4099999999999 L684.5500000000001,545.4099999999999 L682.35,541.6699999999998 Z" fill="#3fa86c"/>
<path d="M679.65,561.1724999999999 L684.0500000000001,561.1724999999999 L681.85,557.4324999999999 Z" fill="#3fa86c"/>
<path d="M680.75,567.19 L685.1500000000001,567.19 L682.95,570.9300000000001 Z" fill="#3fa86c"/>
<rect x="689.85" y="568.20" width="9.10" height="105.60" fill="#e3d1f6" stroke="#b07fe6" stroke-width="1.1"/>
<line x1="694.40" y1="564.25" x2="694.40" y2="572.15" stroke="#b07fe6" stroke-width="1.1"/>
<line x1="691.60" y1="564.25" x2="697.20" y2="564.25" stroke="#b07fe6" stroke-width="1.1"/>
<line x1="691.60" y1="572.15" x2="697.20" y2="572.15" stroke="#b07fe6" stroke-width="1.1"/>
<path d="M691.7,565.81 L696.1000000000001,565.81 L693.9000000000001,562.0699999999999 Z" fill="#b07fe6"/>
<path d="M695.0000000000001,564.815 L697.2000000000002,567.0150000000001 L695.0000000000001,569.2150000000001 L692.8000000000001,567.0150000000001 Z" fill="#b07fe6"/>
<path d="M692.2,570.5900000000001 L696.6000000000001,570.5900000000001 L694.4000000000001,574.3300000000002 Z" fill="#b07fe6"/>
<rect x="716.85" y="531.00" width="9.10" height="142.80" fill="#c0c0c0" stroke="#636363" stroke-width="1.1"/>
<line x1="721.40" y1="525.60" x2="721.40" y2="536.40" stroke="#636363" stroke-width="1.1"/>
<line x1="718.60" y1="525.60" x2="724.20" y2="525.60" stroke="#636363" stroke-width="1.1"/>
<line x1="718.60" y1="536.40" x2="724.20" y2="536.40" stroke="#636363" stroke-width="1.1"/>
<path d="M718.6999999999999,527.16 L723.1,527.16 L720.9,523.42 Z" fill="#636363"/>
<path d="M722.0,527.18 L724.2,529.38 L722.0,531.58 L719.8,529.38 Z" fill="#636363"/>
<path d="M719.1999999999999,534.84 L723.6,534.84 L721.4,538.58 Z" fill="#636363"/>
<rect x="728.90" y="547.50" width="9.10" height="126.30" fill="#f9bfbf" stroke="#ec4a4c" stroke-width="1.1"/>
<line x1="733.45" y1="543.55" x2="733.45" y2="551.45" stroke="#ec4a4c" stroke-width="1.1"/>
<line x1="730.65" y1="543.55" x2="736.25" y2="543.55" stroke="#ec4a4c" stroke-width="1.1"/>
<line x1="730.65" y1="551.45" x2="736.25" y2="551.45" stroke="#ec4a4c" stroke-width="1.1"/>
<path d="M731.8499999999999,545.1099999999999 L736.25,545.1099999999999 L734.05,541.3699999999999 Z" fill="#ec4a4c"/>
<path d="M731.2499999999999,546.7275 L735.65,546.7275 L733.4499999999999,550.4675 Z" fill="#ec4a4c"/>
<path d="M730.7499999999999,549.8900000000001 L735.15,549.8900000000001 L732.9499999999999,553.6300000000001 Z" fill="#ec4a4c"/>
<rect x="740.95" y="535.30" width="9.10" height="138.50" fill="#b4cbf3" stroke="#2f74dc" stroke-width="1.1"/>
<line x1="745.50" y1="525.00" x2="745.50" y2="545.60" stroke="#2f74dc" stroke-width="1.1"/>
<line x1="742.70" y1="525.00" x2="748.30" y2="525.00" stroke="#2f74dc" stroke-width="1.1"/>
<line x1="742.70" y1="545.60" x2="748.30" y2="545.60" stroke="#2f74dc" stroke-width="1.1"/>
<path d="M743.3,526.56 L747.7,526.56 L745.5,522.8199999999999 Z" fill="#2f74dc"/>
<path d="M742.8,539.635 L747.2,539.635 L745.0,535.895 Z" fill="#2f74dc"/>
<path d="M743.9,544.04 L748.3000000000001,544.04 L746.1,547.78 Z" fill="#2f74dc"/>
<rect x="753.00" y="539.20" width="9.10" height="134.60" fill="#b9e2cc" stroke="#3fa86c" stroke-width="1.1"/>
<line x1="757.55" y1="531.65" x2="757.55" y2="546.75" stroke="#3fa86c" stroke-width="1.1"/>
<line x1="754.75" y1="531.65" x2="760.35" y2="531.65" stroke="#3fa86c" stroke-width="1.1"/>
<line x1="754.75" y1="546.75" x2="760.35" y2="546.75" stroke="#3fa86c" stroke-width="1.1"/>
<path d="M754.8499999999999,533.21 L759.25,533.21 L757.05,529.47 Z" fill="#3fa86c"/>
<path d="M758.15,534.735 L760.35,536.9350000000001 L758.15,539.1350000000001 L755.9499999999999,536.9350000000001 Z" fill="#3fa86c"/>
<path d="M755.3499999999999,545.19 L759.75,545.19 L757.55,548.9300000000001 Z" fill="#3fa86c"/>
<rect x="765.05" y="538.80" width="9.10" height="135.00" fill="#e3d1f6" stroke="#b07fe6" stroke-width="1.1"/>
<line x1="769.60" y1="531.70" x2="769.60" y2="545.90" stroke="#b07fe6" stroke-width="1.1"/>
<line x1="766.80" y1="531.70" x2="772.40" y2="531.70" stroke="#b07fe6" stroke-width="1.1"/>
<line x1="766.80" y1="545.90" x2="772.40" y2="545.90" stroke="#b07fe6" stroke-width="1.1"/>
<path d="M768.0,533.2599999999999 L772.4000000000001,533.2599999999999 L770.2,529.5199999999999 Z" fill="#b07fe6"/>
<path d="M767.4,538.8149999999999 L771.8000000000001,538.8149999999999 L769.6,542.555 Z" fill="#b07fe6"/>
<path d="M766.9,544.34 L771.3000000000001,544.34 L769.1,548.08 Z" fill="#b07fe6"/>
<rect x="482" y="460.4" width="301" height="213.39999999999998" fill="none" stroke="#000" stroke-width="2.0"/>
<line x1="478" y1="673.80" x2="482" y2="673.80" stroke="#000" stroke-width="1.6"/>
<text x="475" y="678.0" font-size="12.7" text-anchor="end" fill="#1e1e1e" >0.0</text>
<line x1="478" y1="612.80" x2="482" y2="612.80" stroke="#000" stroke-width="1.6"/>
<text x="475" y="617.0" font-size="12.7" text-anchor="end" fill="#1e1e1e" >0.5</text>
<line x1="478" y1="551.80" x2="482" y2="551.80" stroke="#000" stroke-width="1.6"/>
<text x="475" y="556.0" font-size="12.7" text-anchor="end" fill="#1e1e1e" >1.0</text>
<line x1="478" y1="490.80" x2="482" y2="490.80" stroke="#000" stroke-width="1.6"/>
<text x="475" y="494.99999999999994" font-size="12.7" text-anchor="end" fill="#1e1e1e" >1.5</text>
<line x1="479.8" y1="643.30" x2="482" y2="643.30" stroke="#000" stroke-width="1.4"/>
<line x1="479.8" y1="582.30" x2="482" y2="582.30" stroke="#000" stroke-width="1.4"/>
<line x1="479.8" y1="521.30" x2="482" y2="521.30" stroke="#000" stroke-width="1.4"/>
<text x="519.5" y="689.0" font-size="12.6" text-anchor="middle" fill="#222" >24</text>
<text x="595.0" y="689.0" font-size="12.6" text-anchor="middle" fill="#222" >48</text>
<text x="670.3" y="689.0" font-size="12.6" text-anchor="middle" fill="#222" >72</text>
<text x="745.3" y="689.0" font-size="12.6" text-anchor="middle" fill="#222" >96</text>
<text x="639.7" y="709.6" font-size="14.2" text-anchor="middle" fill="#111" >Time (h)</text>
<text transform="translate(444.9,677.3) rotate(-90)" x="0" y="0" font-size="15.1" fill="#111">FPase/intracellular protein (U/mg)</text>
<text x="592.4" y="453.8" font-size="17.8" fill="#111">Without Cu<tspan font-size="11.2" dx="0.3" dy="-6.6">2+</tspan></text>
<rect x="486.7" y="469.8" width="10.2" height="5" fill="#c0c0c0" stroke="#636363" stroke-width="1.1"/>
<text x="505.6" y="477.8" font-size="15.35" fill="#111" >Rut-C30</text>
<rect x="486.7" y="488.35" width="10.2" height="5" fill="#f9bfbf" stroke="#ec4a4c" stroke-width="1.1"/>
<text x="505.6" y="496.35" font-size="15.35" fill="#111" >ptcustr2</text>
<rect x="486.7" y="506.90000000000003" width="10.2" height="5" fill="#b4cbf3" stroke="#2f74dc" stroke-width="1.1"/>
<text x="505.6" y="514.9" font-size="15.35" fill="#111" >ptcu55077</text>
<rect x="486.7" y="525.45" width="10.2" height="5" fill="#b9e2cc" stroke="#3fa86c" stroke-width="1.1"/>
<text x="505.6" y="533.45" font-size="15.35" fill="#111" >ptcu62380</text>
<rect x="486.7" y="544.0" width="10.2" height="5" fill="#e3d1f6" stroke="#b07fe6" stroke-width="1.1"/>
<text x="505.6" y="552.0" font-size="15.35" fill="#111" >ptcu65493</text>
</svg>
</body></html>
